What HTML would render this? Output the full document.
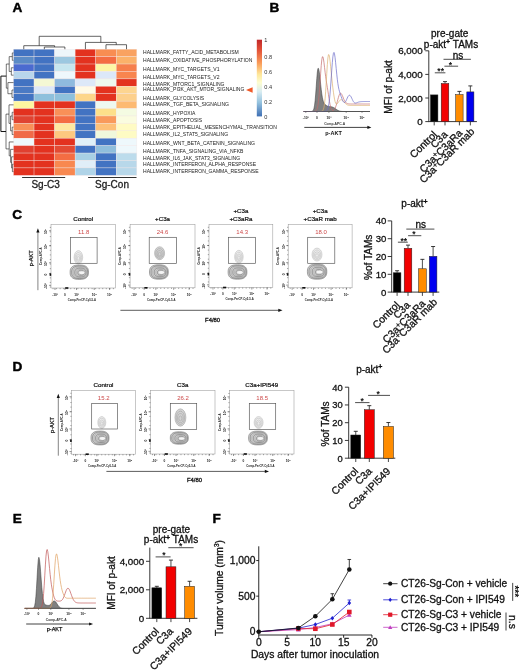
<!DOCTYPE html>
<html><head><meta charset="utf-8"><style>
html,body{margin:0;padding:0;background:#fff;}
svg{display:block;font-family:'Liberation Sans', sans-serif;}
</style></head><body>
<svg width="520" height="671" viewBox="0 0 520 671">
<rect width="520" height="671" fill="#fff"/>
<text x="12.60" y="12.40" font-size="13.6" text-anchor="start" fill="#000" font-weight="bold" stroke="#000" stroke-width="0.45">A</text>
<text x="269.60" y="12.40" font-size="13.6" text-anchor="start" fill="#000" font-weight="bold" stroke="#000" stroke-width="0.45">B</text>
<text x="12.30" y="219.40" font-size="13.6" text-anchor="start" fill="#000" font-weight="bold" stroke="#000" stroke-width="0.45">C</text>
<text x="12.50" y="371.10" font-size="13.6" text-anchor="start" fill="#000" font-weight="bold" stroke="#000" stroke-width="0.45">D</text>
<text x="12.80" y="523.30" font-size="13.6" text-anchor="start" fill="#000" font-weight="bold" stroke="#000" stroke-width="0.45">E</text>
<text x="212.60" y="522.90" font-size="13.6" text-anchor="start" fill="#000" font-weight="bold" stroke="#000" stroke-width="0.45">F</text>
<rect x="13.50" y="49.20" width="20.55" height="7.42" fill="#4273c2" stroke="#f2e6e6" stroke-width="0.45" stroke-opacity="0.75"/>
<rect x="34.05" y="49.20" width="20.55" height="7.42" fill="#4273c2" stroke="#f2e6e6" stroke-width="0.45" stroke-opacity="0.75"/>
<rect x="54.60" y="49.20" width="20.55" height="7.42" fill="#edf6fa" stroke="#f2e6e6" stroke-width="0.45" stroke-opacity="0.75"/>
<rect x="75.15" y="49.20" width="20.55" height="7.42" fill="#e3321f" stroke="#f2e6e6" stroke-width="0.45" stroke-opacity="0.75"/>
<rect x="95.70" y="49.20" width="20.55" height="7.42" fill="#f88d52" stroke="#f2e6e6" stroke-width="0.45" stroke-opacity="0.75"/>
<rect x="116.25" y="49.20" width="20.55" height="7.42" fill="#f9a261" stroke="#f2e6e6" stroke-width="0.45" stroke-opacity="0.75"/>
<rect x="13.50" y="56.62" width="20.55" height="7.42" fill="#5b8bc6" stroke="#f2e6e6" stroke-width="0.45" stroke-opacity="0.75"/>
<rect x="34.05" y="56.62" width="20.55" height="7.42" fill="#4273c2" stroke="#f2e6e6" stroke-width="0.45" stroke-opacity="0.75"/>
<rect x="54.60" y="56.62" width="20.55" height="7.42" fill="#9cc8e0" stroke="#f2e6e6" stroke-width="0.45" stroke-opacity="0.75"/>
<rect x="75.15" y="56.62" width="20.55" height="7.42" fill="#e3321f" stroke="#f2e6e6" stroke-width="0.45" stroke-opacity="0.75"/>
<rect x="95.70" y="56.62" width="20.55" height="7.42" fill="#f46d43" stroke="#f2e6e6" stroke-width="0.45" stroke-opacity="0.75"/>
<rect x="116.25" y="56.62" width="20.55" height="7.42" fill="#fbb26a" stroke="#f2e6e6" stroke-width="0.45" stroke-opacity="0.75"/>
<rect x="13.50" y="64.04" width="20.55" height="7.42" fill="#4b6bd0" stroke="#f2e6e6" stroke-width="0.45" stroke-opacity="0.75"/>
<rect x="34.05" y="64.04" width="20.55" height="7.42" fill="#4273c2" stroke="#f2e6e6" stroke-width="0.45" stroke-opacity="0.75"/>
<rect x="54.60" y="64.04" width="20.55" height="7.42" fill="#c6e6ef" stroke="#f2e6e6" stroke-width="0.45" stroke-opacity="0.75"/>
<rect x="75.15" y="64.04" width="20.55" height="7.42" fill="#e3321f" stroke="#f2e6e6" stroke-width="0.45" stroke-opacity="0.75"/>
<rect x="95.70" y="64.04" width="20.55" height="7.42" fill="#fdf6a6" stroke="#f2e6e6" stroke-width="0.45" stroke-opacity="0.75"/>
<rect x="116.25" y="64.04" width="20.55" height="7.42" fill="#f67f4c" stroke="#f2e6e6" stroke-width="0.45" stroke-opacity="0.75"/>
<rect x="13.50" y="71.46" width="20.55" height="7.42" fill="#b8d6ec" stroke="#f2e6e6" stroke-width="0.45" stroke-opacity="0.75"/>
<rect x="34.05" y="71.46" width="20.55" height="7.42" fill="#4273c2" stroke="#f2e6e6" stroke-width="0.45" stroke-opacity="0.75"/>
<rect x="54.60" y="71.46" width="20.55" height="7.42" fill="#eef8fc" stroke="#f2e6e6" stroke-width="0.45" stroke-opacity="0.75"/>
<rect x="75.15" y="71.46" width="20.55" height="7.42" fill="#e3321f" stroke="#f2e6e6" stroke-width="0.45" stroke-opacity="0.75"/>
<rect x="95.70" y="71.46" width="20.55" height="7.42" fill="#dce8f8" stroke="#f2e6e6" stroke-width="0.45" stroke-opacity="0.75"/>
<rect x="116.25" y="71.46" width="20.55" height="7.42" fill="#f8854f" stroke="#f2e6e6" stroke-width="0.45" stroke-opacity="0.75"/>
<rect x="13.50" y="78.88" width="20.55" height="7.42" fill="#4273c2" stroke="#f2e6e6" stroke-width="0.45" stroke-opacity="0.75"/>
<rect x="34.05" y="78.88" width="20.55" height="7.42" fill="#f4f8d4" stroke="#f2e6e6" stroke-width="0.45" stroke-opacity="0.75"/>
<rect x="54.60" y="78.88" width="20.55" height="7.42" fill="#8fbade" stroke="#f2e6e6" stroke-width="0.45" stroke-opacity="0.75"/>
<rect x="75.15" y="78.88" width="20.55" height="7.42" fill="#dde8f8" stroke="#f2e6e6" stroke-width="0.45" stroke-opacity="0.75"/>
<rect x="95.70" y="78.88" width="20.55" height="7.42" fill="#eef8ee" stroke="#f2e6e6" stroke-width="0.45" stroke-opacity="0.75"/>
<rect x="116.25" y="78.88" width="20.55" height="7.42" fill="#e3321f" stroke="#f2e6e6" stroke-width="0.45" stroke-opacity="0.75"/>
<rect x="13.50" y="86.30" width="20.55" height="7.42" fill="#4a7ac4" stroke="#f2e6e6" stroke-width="0.45" stroke-opacity="0.75"/>
<rect x="34.05" y="86.30" width="20.55" height="7.42" fill="#dce8f8" stroke="#f2e6e6" stroke-width="0.45" stroke-opacity="0.75"/>
<rect x="54.60" y="86.30" width="20.55" height="7.42" fill="#4273c2" stroke="#f2e6e6" stroke-width="0.45" stroke-opacity="0.75"/>
<rect x="75.15" y="86.30" width="20.55" height="7.42" fill="#fffae6" stroke="#f2e6e6" stroke-width="0.45" stroke-opacity="0.75"/>
<rect x="95.70" y="86.30" width="20.55" height="7.42" fill="#e3321f" stroke="#f2e6e6" stroke-width="0.45" stroke-opacity="0.75"/>
<rect x="116.25" y="86.30" width="20.55" height="7.42" fill="#fdd590" stroke="#f2e6e6" stroke-width="0.45" stroke-opacity="0.75"/>
<rect x="13.50" y="93.72" width="20.55" height="7.42" fill="#4273c2" stroke="#f2e6e6" stroke-width="0.45" stroke-opacity="0.75"/>
<rect x="34.05" y="93.72" width="20.55" height="7.42" fill="#8ec0dc" stroke="#f2e6e6" stroke-width="0.45" stroke-opacity="0.75"/>
<rect x="54.60" y="93.72" width="20.55" height="7.42" fill="#8ec0dc" stroke="#f2e6e6" stroke-width="0.45" stroke-opacity="0.75"/>
<rect x="75.15" y="93.72" width="20.55" height="7.42" fill="#fdd68a" stroke="#f2e6e6" stroke-width="0.45" stroke-opacity="0.75"/>
<rect x="95.70" y="93.72" width="20.55" height="7.42" fill="#e3321f" stroke="#f2e6e6" stroke-width="0.45" stroke-opacity="0.75"/>
<rect x="116.25" y="93.72" width="20.55" height="7.42" fill="#fdd08c" stroke="#f2e6e6" stroke-width="0.45" stroke-opacity="0.75"/>
<rect x="13.50" y="101.14" width="20.55" height="7.42" fill="#fef7a0" stroke="#f2e6e6" stroke-width="0.45" stroke-opacity="0.75"/>
<rect x="34.05" y="101.14" width="20.55" height="7.42" fill="#e3321f" stroke="#f2e6e6" stroke-width="0.45" stroke-opacity="0.75"/>
<rect x="54.60" y="101.14" width="20.55" height="7.42" fill="#e3321f" stroke="#f2e6e6" stroke-width="0.45" stroke-opacity="0.75"/>
<rect x="75.15" y="101.14" width="20.55" height="7.42" fill="#4273c2" stroke="#f2e6e6" stroke-width="0.45" stroke-opacity="0.75"/>
<rect x="95.70" y="101.14" width="20.55" height="7.42" fill="#eef9f0" stroke="#f2e6e6" stroke-width="0.45" stroke-opacity="0.75"/>
<rect x="116.25" y="101.14" width="20.55" height="7.42" fill="#fdba72" stroke="#f2e6e6" stroke-width="0.45" stroke-opacity="0.75"/>
<rect x="13.50" y="108.56" width="20.55" height="7.42" fill="#e3321f" stroke="#f2e6e6" stroke-width="0.45" stroke-opacity="0.75"/>
<rect x="34.05" y="108.56" width="20.55" height="7.42" fill="#e3321f" stroke="#f2e6e6" stroke-width="0.45" stroke-opacity="0.75"/>
<rect x="54.60" y="108.56" width="20.55" height="7.42" fill="#f99058" stroke="#f2e6e6" stroke-width="0.45" stroke-opacity="0.75"/>
<rect x="75.15" y="108.56" width="20.55" height="7.42" fill="#4273c2" stroke="#f2e6e6" stroke-width="0.45" stroke-opacity="0.75"/>
<rect x="95.70" y="108.56" width="20.55" height="7.42" fill="#fde08a" stroke="#f2e6e6" stroke-width="0.45" stroke-opacity="0.75"/>
<rect x="116.25" y="108.56" width="20.55" height="7.42" fill="#f4fbe2" stroke="#f2e6e6" stroke-width="0.45" stroke-opacity="0.75"/>
<rect x="13.50" y="115.98" width="20.55" height="7.42" fill="#e04432" stroke="#f2e6e6" stroke-width="0.45" stroke-opacity="0.75"/>
<rect x="34.05" y="115.98" width="20.55" height="7.42" fill="#e3321f" stroke="#f2e6e6" stroke-width="0.45" stroke-opacity="0.75"/>
<rect x="54.60" y="115.98" width="20.55" height="7.42" fill="#f46d43" stroke="#f2e6e6" stroke-width="0.45" stroke-opacity="0.75"/>
<rect x="75.15" y="115.98" width="20.55" height="7.42" fill="#4273c2" stroke="#f2e6e6" stroke-width="0.45" stroke-opacity="0.75"/>
<rect x="95.70" y="115.98" width="20.55" height="7.42" fill="#f99a5c" stroke="#f2e6e6" stroke-width="0.45" stroke-opacity="0.75"/>
<rect x="116.25" y="115.98" width="20.55" height="7.42" fill="#fafce0" stroke="#f2e6e6" stroke-width="0.45" stroke-opacity="0.75"/>
<rect x="13.50" y="123.40" width="20.55" height="7.42" fill="#f99058" stroke="#f2e6e6" stroke-width="0.45" stroke-opacity="0.75"/>
<rect x="34.05" y="123.40" width="20.55" height="7.42" fill="#e3321f" stroke="#f2e6e6" stroke-width="0.45" stroke-opacity="0.75"/>
<rect x="54.60" y="123.40" width="20.55" height="7.42" fill="#fee8a0" stroke="#f2e6e6" stroke-width="0.45" stroke-opacity="0.75"/>
<rect x="75.15" y="123.40" width="20.55" height="7.42" fill="#4273c2" stroke="#f2e6e6" stroke-width="0.45" stroke-opacity="0.75"/>
<rect x="95.70" y="123.40" width="20.55" height="7.42" fill="#fdc078" stroke="#f2e6e6" stroke-width="0.45" stroke-opacity="0.75"/>
<rect x="116.25" y="123.40" width="20.55" height="7.42" fill="#fffbc4" stroke="#f2e6e6" stroke-width="0.45" stroke-opacity="0.75"/>
<rect x="13.50" y="130.82" width="20.55" height="7.42" fill="#f06a48" stroke="#f2e6e6" stroke-width="0.45" stroke-opacity="0.75"/>
<rect x="34.05" y="130.82" width="20.55" height="7.42" fill="#e3321f" stroke="#f2e6e6" stroke-width="0.45" stroke-opacity="0.75"/>
<rect x="54.60" y="130.82" width="20.55" height="7.42" fill="#fdc880" stroke="#f2e6e6" stroke-width="0.45" stroke-opacity="0.75"/>
<rect x="75.15" y="130.82" width="20.55" height="7.42" fill="#4273c2" stroke="#f2e6e6" stroke-width="0.45" stroke-opacity="0.75"/>
<rect x="95.70" y="130.82" width="20.55" height="7.42" fill="#f0f8dc" stroke="#f2e6e6" stroke-width="0.45" stroke-opacity="0.75"/>
<rect x="116.25" y="130.82" width="20.55" height="7.42" fill="#fefbc4" stroke="#f2e6e6" stroke-width="0.45" stroke-opacity="0.75"/>
<rect x="13.50" y="138.24" width="20.55" height="7.42" fill="#eef8fc" stroke="#f2e6e6" stroke-width="0.45" stroke-opacity="0.75"/>
<rect x="34.05" y="138.24" width="20.55" height="7.42" fill="#e3321f" stroke="#f2e6e6" stroke-width="0.45" stroke-opacity="0.75"/>
<rect x="54.60" y="138.24" width="20.55" height="7.42" fill="#e3321f" stroke="#f2e6e6" stroke-width="0.45" stroke-opacity="0.75"/>
<rect x="75.15" y="138.24" width="20.55" height="7.42" fill="#e0f0f8" stroke="#f2e6e6" stroke-width="0.45" stroke-opacity="0.75"/>
<rect x="95.70" y="138.24" width="20.55" height="7.42" fill="#4273c2" stroke="#f2e6e6" stroke-width="0.45" stroke-opacity="0.75"/>
<rect x="116.25" y="138.24" width="20.55" height="7.42" fill="#eef8fc" stroke="#f2e6e6" stroke-width="0.45" stroke-opacity="0.75"/>
<rect x="13.50" y="145.66" width="20.55" height="7.42" fill="#e04030" stroke="#f2e6e6" stroke-width="0.45" stroke-opacity="0.75"/>
<rect x="34.05" y="145.66" width="20.55" height="7.42" fill="#e3321f" stroke="#f2e6e6" stroke-width="0.45" stroke-opacity="0.75"/>
<rect x="54.60" y="145.66" width="20.55" height="7.42" fill="#e34a33" stroke="#f2e6e6" stroke-width="0.45" stroke-opacity="0.75"/>
<rect x="75.15" y="145.66" width="20.55" height="7.42" fill="#4273c2" stroke="#f2e6e6" stroke-width="0.45" stroke-opacity="0.75"/>
<rect x="95.70" y="145.66" width="20.55" height="7.42" fill="#90bedc" stroke="#f2e6e6" stroke-width="0.45" stroke-opacity="0.75"/>
<rect x="116.25" y="145.66" width="20.55" height="7.42" fill="#eef8fc" stroke="#f2e6e6" stroke-width="0.45" stroke-opacity="0.75"/>
<rect x="13.50" y="153.08" width="20.55" height="7.42" fill="#e3321f" stroke="#f2e6e6" stroke-width="0.45" stroke-opacity="0.75"/>
<rect x="34.05" y="153.08" width="20.55" height="7.42" fill="#e3321f" stroke="#f2e6e6" stroke-width="0.45" stroke-opacity="0.75"/>
<rect x="54.60" y="153.08" width="20.55" height="7.42" fill="#f46d43" stroke="#f2e6e6" stroke-width="0.45" stroke-opacity="0.75"/>
<rect x="75.15" y="153.08" width="20.55" height="7.42" fill="#a8d0e4" stroke="#f2e6e6" stroke-width="0.45" stroke-opacity="0.75"/>
<rect x="95.70" y="153.08" width="20.55" height="7.42" fill="#4273c2" stroke="#f2e6e6" stroke-width="0.45" stroke-opacity="0.75"/>
<rect x="116.25" y="153.08" width="20.55" height="7.42" fill="#bcdcec" stroke="#f2e6e6" stroke-width="0.45" stroke-opacity="0.75"/>
<rect x="13.50" y="160.50" width="20.55" height="7.42" fill="#e3321f" stroke="#f2e6e6" stroke-width="0.45" stroke-opacity="0.75"/>
<rect x="34.05" y="160.50" width="20.55" height="7.42" fill="#e3321f" stroke="#f2e6e6" stroke-width="0.45" stroke-opacity="0.75"/>
<rect x="54.60" y="160.50" width="20.55" height="7.42" fill="#f88850" stroke="#f2e6e6" stroke-width="0.45" stroke-opacity="0.75"/>
<rect x="75.15" y="160.50" width="20.55" height="7.42" fill="#e0eef8" stroke="#f2e6e6" stroke-width="0.45" stroke-opacity="0.75"/>
<rect x="95.70" y="160.50" width="20.55" height="7.42" fill="#4273c2" stroke="#f2e6e6" stroke-width="0.45" stroke-opacity="0.75"/>
<rect x="116.25" y="160.50" width="20.55" height="7.42" fill="#b8d8ea" stroke="#f2e6e6" stroke-width="0.45" stroke-opacity="0.75"/>
<rect x="13.50" y="167.92" width="20.55" height="7.42" fill="#e3321f" stroke="#f2e6e6" stroke-width="0.45" stroke-opacity="0.75"/>
<rect x="34.05" y="167.92" width="20.55" height="7.42" fill="#e3321f" stroke="#f2e6e6" stroke-width="0.45" stroke-opacity="0.75"/>
<rect x="54.60" y="167.92" width="20.55" height="7.42" fill="#f88850" stroke="#f2e6e6" stroke-width="0.45" stroke-opacity="0.75"/>
<rect x="75.15" y="167.92" width="20.55" height="7.42" fill="#b0d4e8" stroke="#f2e6e6" stroke-width="0.45" stroke-opacity="0.75"/>
<rect x="95.70" y="167.92" width="20.55" height="7.42" fill="#4273c2" stroke="#f2e6e6" stroke-width="0.45" stroke-opacity="0.75"/>
<rect x="116.25" y="167.92" width="20.55" height="7.42" fill="#b8d8ea" stroke="#f2e6e6" stroke-width="0.45" stroke-opacity="0.75"/>
<polyline points="44.33,49.20 44.33,47.00 64.88,47.00 64.88,49.20" fill="none" stroke="#222" stroke-width="0.7"/>
<polyline points="23.77,49.20 23.77,45.70 54.60,45.70 54.60,47.00" fill="none" stroke="#222" stroke-width="0.7"/>
<polyline points="105.98,49.20 105.98,44.70 126.53,44.70 126.53,49.20" fill="none" stroke="#222" stroke-width="0.7"/>
<polyline points="85.42,49.20 85.42,42.40 116.25,42.40 116.25,44.70" fill="none" stroke="#222" stroke-width="0.7"/>
<polyline points="39.19,45.70 39.19,36.30 100.84,36.30 100.84,42.40" fill="none" stroke="#222" stroke-width="0.7"/>
<polyline points="13.50,52.91 12.30,52.91 12.30,60.33 13.50,60.33" fill="none" stroke="#1a1a1a" stroke-width="0.6"/>
<polyline points="13.50,67.75 11.30,67.75 11.30,75.17 13.50,75.17" fill="none" stroke="#1a1a1a" stroke-width="0.6"/>
<polyline points="12.30,56.62 9.20,56.62 9.20,71.46 11.30,71.46" fill="none" stroke="#1a1a1a" stroke-width="0.6"/>
<polyline points="13.50,90.01 12.00,90.01 12.00,97.43 13.50,97.43" fill="none" stroke="#1a1a1a" stroke-width="0.6"/>
<polyline points="13.50,82.59 7.90,82.59 7.90,93.72 12.00,93.72" fill="none" stroke="#1a1a1a" stroke-width="0.6"/>
<polyline points="9.20,64.04 6.30,64.04 6.30,88.16 7.90,88.16" fill="none" stroke="#1a1a1a" stroke-width="0.6"/>
<polyline points="13.50,112.27 12.20,112.27 12.20,119.69 13.50,119.69" fill="none" stroke="#1a1a1a" stroke-width="0.6"/>
<polyline points="13.50,127.11 12.20,127.11 12.20,134.53 13.50,134.53" fill="none" stroke="#1a1a1a" stroke-width="0.6"/>
<polyline points="12.20,115.98 10.60,115.98 10.60,130.82 12.20,130.82" fill="none" stroke="#1a1a1a" stroke-width="0.6"/>
<polyline points="13.50,104.85 9.00,104.85 9.00,123.40 10.60,123.40" fill="none" stroke="#1a1a1a" stroke-width="0.6"/>
<polyline points="13.50,164.21 12.40,164.21 12.40,171.63 13.50,171.63" fill="none" stroke="#1a1a1a" stroke-width="0.6"/>
<polyline points="13.50,156.79 11.60,156.79 11.60,167.92 12.40,167.92" fill="none" stroke="#1a1a1a" stroke-width="0.6"/>
<polyline points="13.50,149.37 10.60,149.37 10.60,162.36 11.60,162.36" fill="none" stroke="#1a1a1a" stroke-width="0.6"/>
<polyline points="13.50,141.95 9.20,141.95 9.20,155.86 10.60,155.86" fill="none" stroke="#1a1a1a" stroke-width="0.6"/>
<polyline points="9.00,114.12 6.00,114.12 6.00,148.91 9.20,148.91" fill="none" stroke="#1a1a1a" stroke-width="0.6"/>
<polyline points="6.30,76.10 0.90,76.10 0.90,131.52 6.00,131.52" fill="none" stroke="#111" stroke-width="1.0"/>
<text x="143.00" y="54.30" font-size="5.06" text-anchor="start" fill="#222">HALLMARK_FATTY_ACID_METABOLISM</text>
<text x="143.00" y="61.80" font-size="5.06" text-anchor="start" fill="#222">HALLMARK_OXIDATIVE_PHOSPHORYLATION</text>
<text x="143.00" y="70.55" font-size="5.06" text-anchor="start" fill="#222">HALLMARK_MYC_TARGETS_V1</text>
<text x="143.00" y="78.55" font-size="5.06" text-anchor="start" fill="#222">HALLMARK_MYC_TARGETS_V2</text>
<text x="143.00" y="86.05" font-size="5.06" text-anchor="start" fill="#222">HALLMARK_MTORC1_SIGNALING</text>
<text x="143.00" y="91.05" font-size="5.06" text-anchor="start" fill="#222">HALLMARK_PI3K_AKT_MTOR_SIGNALING</text>
<text x="143.00" y="100.05" font-size="5.06" text-anchor="start" fill="#222">HALLMARK_GLYCOLYSIS</text>
<text x="143.00" y="106.30" font-size="5.06" text-anchor="start" fill="#222">HALLMARK_TGF_BETA_SIGNALING</text>
<text x="143.00" y="114.80" font-size="5.06" text-anchor="start" fill="#222">HALLMARK_HYPOXIA</text>
<text x="143.00" y="121.80" font-size="5.06" text-anchor="start" fill="#222">HALLMARK_APOPTOSIS</text>
<text x="143.00" y="128.55" font-size="5.06" text-anchor="start" fill="#222">HALLMARK_EPITHELIAL_MESENCHYMAL_TRANSITION</text>
<text x="143.00" y="135.55" font-size="5.06" text-anchor="start" fill="#222">HALLMARK_IL2_STAT5_SIGNALING</text>
<text x="143.00" y="144.80" font-size="5.06" text-anchor="start" fill="#222">HALLMARK_WNT_BETA_CATENIN_SIGNALING</text>
<text x="143.00" y="152.55" font-size="5.06" text-anchor="start" fill="#222">HALLMARK_TNFA_SIGNALING_VIA_NFKB</text>
<text x="143.00" y="159.55" font-size="5.06" text-anchor="start" fill="#222">HALLMARK_IL6_JAK_STAT3_SIGNALING</text>
<text x="143.00" y="166.30" font-size="5.06" text-anchor="start" fill="#222">HALLMARK_INTERFERON_ALPHA_RESPONSE</text>
<text x="143.00" y="173.05" font-size="5.06" text-anchor="start" fill="#222">HALLMARK_INTERFERON_GAMMA_RESPONSE</text>
<polygon points="246,90 252.6,87.2 252.6,92.8" fill="#f05a28"/>
<defs><linearGradient id="cb" x1="0" y1="0" x2="0" y2="1"><stop offset="0" stop-color="#c0282a"/><stop offset="0.12" stop-color="#e04b35"/><stop offset="0.3" stop-color="#f99a58"/><stop offset="0.45" stop-color="#fee79a"/><stop offset="0.56" stop-color="#fdfdd0"/><stop offset="0.68" stop-color="#d8ecf2"/><stop offset="0.82" stop-color="#94c2de"/><stop offset="1" stop-color="#3f6fb4"/></linearGradient></defs>
<rect x="256.80" y="39.70" width="5.20" height="76.70" fill="url(#cb)" stroke="none" stroke-width="0"/>
<text x="264.30" y="42.40" font-size="5.6" text-anchor="start" fill="#333">1</text>
<text x="264.30" y="58.50" font-size="5.6" text-anchor="start" fill="#333">0.8</text>
<text x="264.30" y="74.20" font-size="5.6" text-anchor="start" fill="#333">0.6</text>
<text x="264.30" y="89.00" font-size="5.6" text-anchor="start" fill="#333">0.4</text>
<text x="264.30" y="104.30" font-size="5.6" text-anchor="start" fill="#333">0.2</text>
<text x="264.30" y="118.90" font-size="5.6" text-anchor="start" fill="#333">0</text>
<line x1="22.10" y1="177.50" x2="65.20" y2="177.50" stroke="#333" stroke-width="1.2"/>
<line x1="88.10" y1="177.50" x2="136.50" y2="177.50" stroke="#333" stroke-width="1.2"/>
<text x="45.60" y="187.50" font-size="10" text-anchor="middle" fill="#222" stroke="#222" stroke-width="0.3">Sg-C3</text>
<text x="112.00" y="187.50" font-size="10" text-anchor="middle" fill="#222" stroke="#222" stroke-width="0.3">Sg-Con</text>
<path d="M303.50,111.50 L304.05,111.50 L304.61,111.50 L305.16,111.50 L305.72,111.50 L306.27,111.50 L306.82,111.50 L307.38,111.50 L307.93,111.50 L308.49,111.50 L309.04,111.50 L309.60,111.50 L310.15,111.50 L310.70,111.49 L311.26,111.47 L311.81,111.40 L312.37,111.23 L312.92,110.82 L313.48,109.92 L314.03,108.18 L314.58,105.15 L315.14,100.45 L315.69,94.01 L316.25,86.29 L316.80,78.42 L317.35,71.98 L317.91,68.48 L318.46,68.39 L319.02,70.48 L319.57,74.25 L320.12,79.11 L320.68,84.37 L321.23,89.41 L321.79,93.80 L322.34,97.32 L322.90,99.94 L323.45,101.78 L324.00,103.02 L324.56,103.87 L325.11,104.48 L325.67,104.95 L326.22,105.36 L326.77,105.71 L327.33,106.00 L327.88,106.24 L328.44,106.42 L328.99,106.54 L329.55,106.62 L330.10,106.67 L330.65,106.72 L331.21,106.78 L331.76,106.87 L332.32,107.01 L332.87,107.20 L333.43,107.44 L333.98,107.73 L334.53,108.07 L335.09,108.44 L335.64,108.83 L336.20,109.23 L336.75,109.62 L337.30,109.98 L337.86,110.31 L338.41,110.59 L338.97,110.83 L339.52,111.02 L340.07,111.17 L340.63,111.28 L341.18,111.35 L341.74,111.41 L342.29,111.44 L342.85,111.47 L343.40,111.48 L343.95,111.49 L344.51,111.49 L345.06,111.50 L345.62,111.50 L346.17,111.50 L346.73,111.50 L347.28,111.50 L347.83,111.50 L348.39,111.50 L348.94,111.50 L349.50,111.50 L350.05,111.50 L350.60,111.50 L351.16,111.50 L351.71,111.50 L352.27,111.50 L352.82,111.50 L353.38,111.50 L353.93,111.50 L354.48,111.50 L355.04,111.50 L355.59,111.50 L356.15,111.50 L356.70,111.50 L357.25,111.50 L357.81,111.50 L358.36,111.50 L358.92,111.50 L359.47,111.50 L360.02,111.50 L360.58,111.50 L361.13,111.50 L361.69,111.50 L362.24,111.50 L362.80,111.50 L363.35,111.50 L363.90,111.50 L364.46,111.50 L365.01,111.50 L365.57,111.50 L366.12,111.50 L366.68,111.50 L367.23,111.50 L367.78,111.50 L368.34,111.50 L368.89,111.50 L369.45,111.50 L370.00,111.50 L370.00,111.50 L303.50,111.50 Z" fill="#6a6a6a" fill-opacity="0.85" stroke="#333" stroke-width="0.5"/>
<polyline points="303.50,111.50 304.05,111.50 304.61,111.50 305.16,111.50 305.72,111.50 306.27,111.50 306.82,111.50 307.38,111.50 307.93,111.50 308.49,111.50 309.04,111.50 309.60,111.50 310.15,111.50 310.70,111.50 311.26,111.50 311.81,111.50 312.37,111.50 312.92,111.50 313.48,111.49 314.03,111.47 314.58,111.42 315.14,111.30 315.69,111.05 316.25,110.55 316.80,109.62 317.35,108.00 317.91,105.38 318.46,101.48 319.02,96.08 319.57,89.23 320.12,81.32 320.68,73.09 321.23,65.58 321.79,59.88 322.34,56.85 322.90,56.72 323.45,58.90 324.00,62.76 324.56,67.47 325.11,72.29 325.67,76.71 326.22,80.57 326.77,84.02 327.33,87.37 327.88,90.84 328.44,94.50 328.99,98.21 329.55,101.70 330.10,104.72 330.65,107.09 331.21,108.77 331.76,109.83 332.32,110.37 332.87,110.51 333.43,110.34 333.98,109.89 334.53,109.18 335.09,108.19 335.64,106.90 336.20,105.33 336.75,103.50 337.30,101.49 337.86,99.41 338.41,97.41 338.97,95.65 339.52,94.29 340.07,93.47 340.63,93.22 341.18,93.53 341.74,94.32 342.29,95.45 342.85,96.78 343.40,98.16 343.95,99.47 344.51,100.63 345.06,101.59 345.62,102.35 346.17,102.92 346.73,103.32 347.28,103.59 347.83,103.76 348.39,103.87 348.94,103.93 349.50,103.97 350.05,103.98 350.60,103.99 351.16,104.00 351.71,104.00 352.27,104.00 352.82,104.00 353.38,104.00 353.93,104.00 354.48,104.00 355.04,104.00 355.59,104.00 356.15,104.00 356.70,104.00 357.25,104.00 357.81,104.00 358.36,104.00 358.92,104.00 359.47,104.00 360.02,104.00 360.58,104.00 361.13,104.00 361.69,104.00 362.24,104.00 362.80,104.00 363.35,104.00 363.90,104.00 364.46,104.00 365.01,104.00 365.57,104.00 366.12,104.00 366.68,104.00 367.23,104.00 367.78,104.00 368.34,104.00 368.89,104.00 369.45,104.00 370.00,104.00" fill="none" stroke="#c46c6c" stroke-width="0.7"/>
<polyline points="303.50,111.50 304.05,111.50 304.61,111.50 305.16,111.50 305.72,111.50 306.27,111.50 306.82,111.50 307.38,111.50 307.93,111.50 308.49,111.50 309.04,111.50 309.60,111.50 310.15,111.50 310.70,111.50 311.26,111.50 311.81,111.50 312.37,111.50 312.92,111.50 313.48,111.50 314.03,111.50 314.58,111.50 315.14,111.50 315.69,111.50 316.25,111.50 316.80,111.50 317.35,111.50 317.91,111.50 318.46,111.50 319.02,111.50 319.57,111.50 320.12,111.49 320.68,111.47 321.23,111.42 321.79,111.30 322.34,111.02 322.90,110.41 323.45,109.23 324.00,107.10 324.56,103.60 325.11,98.38 325.67,91.29 326.22,82.66 326.77,73.34 327.33,64.65 327.88,58.05 328.44,54.71 328.99,54.68 329.55,57.11 330.10,61.38 330.65,66.70 331.21,72.37 331.76,77.92 332.32,83.11 332.87,87.88 333.43,92.20 333.98,96.00 334.53,99.16 335.09,101.55 335.64,103.12 336.20,103.90 336.75,104.01 337.30,103.64 337.86,102.98 338.41,102.18 338.97,101.38 339.52,100.68 340.07,100.14 340.63,99.80 341.18,99.69 341.74,99.81 342.29,100.12 342.85,100.60 343.40,101.19 343.95,101.83 344.51,102.49 345.06,103.12 345.62,103.67 346.17,104.15 346.73,104.53 347.28,104.83 347.83,105.05 348.39,105.21 348.94,105.32 349.50,105.39 350.05,105.44 350.60,105.46 351.16,105.48 351.71,105.49 352.27,105.49 352.82,105.50 353.38,105.50 353.93,105.50 354.48,105.50 355.04,105.50 355.59,105.50 356.15,105.50 356.70,105.50 357.25,105.50 357.81,105.50 358.36,105.50 358.92,105.50 359.47,105.50 360.02,105.50 360.58,105.50 361.13,105.50 361.69,105.50 362.24,105.50 362.80,105.50 363.35,105.50 363.90,105.50 364.46,105.50 365.01,105.50 365.57,105.50 366.12,105.50 366.68,105.50 367.23,105.50 367.78,105.50 368.34,105.50 368.89,105.50 369.45,105.50 370.00,105.50" fill="none" stroke="#dcb070" stroke-width="0.7"/>
<polyline points="303.50,111.50 304.05,111.50 304.61,111.50 305.16,111.50 305.72,111.50 306.27,111.50 306.82,111.50 307.38,111.50 307.93,111.50 308.49,111.50 309.04,111.50 309.60,111.50 310.15,111.50 310.70,111.50 311.26,111.50 311.81,111.50 312.37,111.50 312.92,111.50 313.48,111.50 314.03,111.50 314.58,111.50 315.14,111.50 315.69,111.50 316.25,111.50 316.80,111.50 317.35,111.50 317.91,111.50 318.46,111.50 319.02,111.50 319.57,111.50 320.12,111.50 320.68,111.50 321.23,111.50 321.79,111.50 322.34,111.50 322.90,111.50 323.45,111.49 324.00,111.48 324.56,111.46 325.11,111.41 325.67,111.29 326.22,111.06 326.77,110.62 327.33,109.83 327.88,108.50 328.44,106.38 328.99,103.22 329.55,98.80 330.10,93.04 330.65,86.04 331.21,78.19 331.76,70.14 332.32,62.74 332.87,56.88 333.43,53.31 333.98,52.41 334.53,53.99 335.09,57.64 335.64,62.71 336.20,68.45 336.75,74.14 337.30,79.26 337.86,83.53 338.41,86.91 338.97,89.53 339.52,91.61 340.07,93.37 340.63,95.01 341.18,96.60 341.74,98.15 342.29,99.61 342.85,100.87 343.40,101.83 343.95,102.41 344.51,102.54 345.06,102.23 345.62,101.52 346.17,100.51 346.73,99.30 347.28,98.04 347.83,96.89 348.39,95.96 348.94,95.38 349.50,95.20 350.05,95.44 350.60,96.07 351.16,97.02 351.71,98.17 352.27,99.39 352.82,100.57 353.38,101.57 353.93,102.34 354.48,102.82 355.04,103.05 355.59,103.07 356.15,102.94 356.70,102.75 357.25,102.53 357.81,102.33 358.36,102.14 358.92,101.99 359.47,101.87 360.02,101.77 360.58,101.70 361.13,101.65 361.69,101.60 362.24,101.57 362.80,101.55 363.35,101.54 363.90,101.53 364.46,101.52 365.01,101.51 365.57,101.51 366.12,101.51 366.68,101.50 367.23,101.50 367.78,101.50 368.34,101.50 368.89,101.50 369.45,101.50 370.00,101.50" fill="none" stroke="#6c6cc8" stroke-width="0.7"/>
<line x1="303.50" y1="111.50" x2="370.00" y2="111.50" stroke="#444" stroke-width="0.6"/>
<line x1="305.80" y1="111.50" x2="305.80" y2="113.00" stroke="#444" stroke-width="0.5"/>
<line x1="317.00" y1="111.50" x2="317.00" y2="113.00" stroke="#444" stroke-width="0.5"/>
<line x1="328.90" y1="111.50" x2="328.90" y2="113.00" stroke="#444" stroke-width="0.5"/>
<line x1="346.20" y1="111.50" x2="346.20" y2="113.00" stroke="#444" stroke-width="0.5"/>
<line x1="362.00" y1="111.50" x2="362.00" y2="113.00" stroke="#444" stroke-width="0.5"/>
<text x="305.80" y="118.50" font-size="3.3" text-anchor="middle" fill="#222" font-weight="bold">-10³</text>
<text x="317.00" y="118.50" font-size="3.3" text-anchor="middle" fill="#222" font-weight="bold">0</text>
<text x="328.90" y="118.50" font-size="3.3" text-anchor="middle" fill="#222" font-weight="bold">10³</text>
<text x="346.20" y="118.50" font-size="3.3" text-anchor="middle" fill="#222" font-weight="bold">10⁴</text>
<text x="362.00" y="118.50" font-size="3.3" text-anchor="middle" fill="#222" font-weight="bold">10⁵</text>
<text x="334.60" y="124.70" font-size="3.3" text-anchor="middle" fill="#333" font-weight="bold">Comp-APC-A</text>
<line x1="304.30" y1="127.40" x2="368.40" y2="127.40" stroke="#111" stroke-width="0.8"/>
<polygon points="371.40,127.40 367.40,125.80 367.40,129.00" fill="#111"/>
<text x="333.50" y="134.60" font-size="5.5" text-anchor="middle" fill="#111" font-weight="bold">p-AKT</text>
<path d="M24.60,608.40 L25.19,608.40 L25.79,608.40 L26.38,608.40 L26.98,608.40 L27.57,608.40 L28.17,608.40 L28.76,608.40 L29.35,608.40 L29.95,608.40 L30.54,608.40 L31.14,608.40 L31.73,608.39 L32.32,608.36 L32.92,608.27 L33.51,607.99 L34.11,607.27 L34.70,605.61 L35.30,602.31 L35.89,596.62 L36.48,588.23 L37.08,577.84 L37.67,567.42 L38.27,559.75 L38.86,557.24 L39.45,559.33 L40.05,564.56 L40.64,571.88 L41.24,579.93 L41.83,587.51 L42.43,593.80 L43.02,598.46 L43.61,601.55 L44.21,603.39 L44.80,604.37 L45.40,604.84 L45.99,605.07 L46.58,605.19 L47.18,605.30 L47.77,605.38 L48.37,605.41 L48.96,605.35 L49.56,605.15 L50.15,604.78 L50.74,604.24 L51.34,603.56 L51.93,602.80 L52.53,602.06 L53.12,601.45 L53.71,601.05 L54.31,600.94 L54.90,601.13 L55.50,601.63 L56.09,602.36 L56.69,603.25 L57.28,604.20 L57.87,605.12 L58.47,605.96 L59.06,606.66 L59.66,607.21 L60.25,607.63 L60.84,607.92 L61.44,608.11 L62.03,608.24 L62.63,608.31 L63.22,608.35 L63.82,608.38 L64.41,608.39 L65.00,608.40 L65.60,608.40 L66.19,608.40 L66.79,608.40 L67.38,608.40 L67.97,608.40 L68.57,608.40 L69.16,608.40 L69.76,608.40 L70.35,608.40 L70.95,608.40 L71.54,608.40 L72.13,608.40 L72.73,608.40 L73.32,608.40 L73.92,608.40 L74.51,608.40 L75.10,608.40 L75.70,608.40 L76.29,608.40 L76.89,608.40 L77.48,608.40 L78.08,608.40 L78.67,608.40 L79.26,608.40 L79.86,608.40 L80.45,608.40 L81.05,608.40 L81.64,608.40 L82.23,608.40 L82.83,608.40 L83.42,608.40 L84.02,608.40 L84.61,608.40 L85.21,608.40 L85.80,608.40 L86.39,608.40 L86.99,608.40 L87.58,608.40 L88.18,608.40 L88.77,608.40 L89.36,608.40 L89.96,608.40 L90.55,608.40 L91.15,608.40 L91.74,608.40 L92.34,608.40 L92.93,608.40 L93.52,608.40 L94.12,608.40 L94.71,608.40 L95.31,608.40 L95.90,608.40 L95.90,608.40 L24.60,608.40 Z" fill="#6a6a6a" fill-opacity="0.85" stroke="#333" stroke-width="0.5"/>
<polyline points="24.60,608.40 25.19,608.40 25.79,608.40 26.38,608.40 26.98,608.40 27.57,608.40 28.17,608.40 28.76,608.40 29.35,608.40 29.95,608.40 30.54,608.40 31.14,608.40 31.73,608.40 32.32,608.40 32.92,608.40 33.51,608.40 34.11,608.40 34.70,608.40 35.30,608.40 35.89,608.40 36.48,608.40 37.08,608.40 37.67,608.40 38.27,608.39 38.86,608.38 39.45,608.34 40.05,608.23 40.64,607.96 41.24,607.34 41.83,606.07 42.43,603.68 43.02,599.64 43.61,593.50 44.21,585.17 44.80,575.20 45.40,564.92 45.99,556.14 46.58,550.68 47.18,549.51 47.77,551.56 48.37,556.03 48.96,561.96 49.56,568.36 50.15,574.45 50.74,579.78 51.34,584.23 51.93,587.93 52.53,591.03 53.12,593.68 53.71,595.91 54.31,597.71 54.90,599.07 55.50,600.00 56.09,600.58 56.69,600.89 57.28,601.03 57.87,601.09 58.47,601.11 59.06,601.11 59.66,601.10 60.25,601.03 60.84,600.86 61.44,600.55 62.03,600.03 62.63,599.26 63.22,598.22 63.82,596.91 64.41,595.38 65.00,593.70 65.60,592.02 66.19,590.48 66.79,589.25 67.38,588.46 67.97,588.21 68.57,588.50 69.16,589.31 69.76,590.52 70.35,592.03 70.95,593.69 71.54,595.37 72.13,596.96 72.73,598.39 73.32,599.59 73.92,600.57 74.51,601.32 75.10,601.88 75.70,602.28 76.29,602.55 76.89,602.73 77.48,602.84 78.08,602.91 78.67,602.95 79.26,602.98 79.86,602.99 80.45,602.99 81.05,603.00 81.64,603.00 82.23,603.00 82.83,603.00 83.42,603.00 84.02,603.00 84.61,603.00 85.21,603.00 85.80,603.00 86.39,603.00 86.99,603.00 87.58,603.00 88.18,603.00 88.77,603.00 89.36,603.00 89.96,603.00 90.55,603.00 91.15,603.00 91.74,603.00 92.34,603.00 92.93,603.00 93.52,603.00 94.12,603.00 94.71,603.00 95.31,603.00 95.90,603.00" fill="none" stroke="#c05454" stroke-width="0.7"/>
<polyline points="24.60,608.40 25.19,608.40 25.79,608.40 26.38,608.40 26.98,608.40 27.57,608.40 28.17,608.40 28.76,608.40 29.35,608.40 29.95,608.40 30.54,608.40 31.14,608.40 31.73,608.40 32.32,608.40 32.92,608.40 33.51,608.40 34.11,608.40 34.70,608.40 35.30,608.40 35.89,608.40 36.48,608.40 37.08,608.40 37.67,608.40 38.27,608.40 38.86,608.40 39.45,608.40 40.05,608.40 40.64,608.40 41.24,608.40 41.83,608.40 42.43,608.40 43.02,608.40 43.61,608.40 44.21,608.40 44.80,608.40 45.40,608.40 45.99,608.40 46.58,608.40 47.18,608.40 47.77,608.39 48.37,608.37 48.96,608.32 49.56,608.19 50.15,607.87 50.74,607.15 51.34,605.70 51.93,603.08 52.53,598.80 53.12,592.52 53.71,584.33 54.31,574.95 54.90,565.73 55.50,558.38 56.09,554.38 56.69,553.98 57.28,556.15 57.87,560.26 58.47,565.47 59.06,570.98 59.66,576.15 60.25,580.65 60.84,584.39 61.44,587.44 62.03,589.95 62.63,592.04 63.22,593.78 63.82,595.20 64.41,596.31 65.00,597.12 65.60,597.66 66.19,598.00 66.79,598.18 67.38,598.26 67.97,598.28 68.57,598.28 69.16,598.27 69.76,598.25 70.35,598.24 70.95,598.23 71.54,598.22 72.13,598.21 72.73,598.21 73.32,598.21 73.92,598.20 74.51,598.20 75.10,598.20 75.70,598.20 76.29,598.20 76.89,598.20 77.48,598.20 78.08,598.20 78.67,598.20 79.26,598.20 79.86,598.20 80.45,598.20 81.05,598.20 81.64,598.20 82.23,598.20 82.83,598.20 83.42,598.20 84.02,598.20 84.61,598.20 85.21,598.20 85.80,598.20 86.39,598.20 86.99,598.20 87.58,598.20 88.18,598.20 88.77,598.20 89.36,598.20 89.96,598.20 90.55,598.20 91.15,598.20 91.74,598.20 92.34,598.20 92.93,598.20 93.52,598.20 94.12,598.20 94.71,598.20 95.31,598.20 95.90,598.20" fill="none" stroke="#e0a060" stroke-width="0.7"/>
<line x1="24.60" y1="608.40" x2="95.90" y2="608.40" stroke="#444" stroke-width="0.6"/>
<line x1="26.90" y1="608.40" x2="26.90" y2="609.90" stroke="#444" stroke-width="0.5"/>
<line x1="38.50" y1="608.40" x2="38.50" y2="609.90" stroke="#444" stroke-width="0.5"/>
<line x1="50.80" y1="608.40" x2="50.80" y2="609.90" stroke="#444" stroke-width="0.5"/>
<line x1="68.90" y1="608.40" x2="68.90" y2="609.90" stroke="#444" stroke-width="0.5"/>
<line x1="83.10" y1="608.40" x2="83.10" y2="609.90" stroke="#444" stroke-width="0.5"/>
<text x="26.90" y="615.40" font-size="3.3" text-anchor="middle" fill="#222" font-weight="bold">-10³</text>
<text x="38.50" y="615.40" font-size="3.3" text-anchor="middle" fill="#222" font-weight="bold">0</text>
<text x="50.80" y="615.40" font-size="3.3" text-anchor="middle" fill="#222" font-weight="bold">10³</text>
<text x="68.90" y="615.40" font-size="3.3" text-anchor="middle" fill="#222" font-weight="bold">10⁴</text>
<text x="83.10" y="615.40" font-size="3.3" text-anchor="middle" fill="#222" font-weight="bold">10⁵</text>
<text x="56.20" y="620.80" font-size="3.3" text-anchor="middle" fill="#333" font-weight="bold">Comp-APC-A</text>
<line x1="26.20" y1="624.00" x2="90.10" y2="624.00" stroke="#111" stroke-width="0.8"/>
<polygon points="93.10,624.00 89.10,622.40 89.10,625.60" fill="#111"/>
<text x="54.60" y="630.80" font-size="5.6" text-anchor="middle" fill="#111" stroke="#111" stroke-width="0.25">p-AKT</text>
<line x1="428.80" y1="50.80" x2="428.80" y2="121.60" stroke="#222" stroke-width="0.9"/>
<line x1="428.35" y1="121.60" x2="476.90" y2="121.60" stroke="#222" stroke-width="0.9"/>
<line x1="425.30" y1="50.80" x2="428.80" y2="50.80" stroke="#222" stroke-width="0.9"/>
<text x="422.70" y="54.31" font-size="9.8" text-anchor="end" fill="#111" stroke="#111" stroke-width="0.3">6,000</text>
<line x1="425.30" y1="74.40" x2="428.80" y2="74.40" stroke="#222" stroke-width="0.9"/>
<text x="422.70" y="77.91" font-size="9.8" text-anchor="end" fill="#111" stroke="#111" stroke-width="0.3">4,000</text>
<line x1="425.30" y1="98.00" x2="428.80" y2="98.00" stroke="#222" stroke-width="0.9"/>
<text x="422.70" y="101.51" font-size="9.8" text-anchor="end" fill="#111" stroke="#111" stroke-width="0.3">2,000</text>
<line x1="425.30" y1="121.60" x2="428.80" y2="121.60" stroke="#222" stroke-width="0.9"/>
<text x="422.70" y="125.11" font-size="9.8" text-anchor="end" fill="#111" stroke="#111" stroke-width="0.3">0</text>
<rect x="430.50" y="94.90" width="7.40" height="26.70" fill="#000" stroke="#222" stroke-width="0.5"/>
<line x1="434.20" y1="121.60" x2="434.20" y2="125.40" stroke="#333" stroke-width="0.9"/>
<line x1="445.00" y1="83.50" x2="445.00" y2="81.60" stroke="#222" stroke-width="0.8"/>
<line x1="443.00" y1="81.60" x2="447.00" y2="81.60" stroke="#222" stroke-width="0.9"/>
<rect x="441.20" y="83.50" width="7.60" height="38.10" fill="#f20000" stroke="#222" stroke-width="0.5"/>
<line x1="445.00" y1="121.60" x2="445.00" y2="125.40" stroke="#333" stroke-width="0.9"/>
<line x1="459.40" y1="94.60" x2="459.40" y2="91.40" stroke="#222" stroke-width="0.8"/>
<line x1="457.40" y1="91.40" x2="461.40" y2="91.40" stroke="#222" stroke-width="0.9"/>
<rect x="455.70" y="94.60" width="7.40" height="27.00" fill="#ff8c00" stroke="#222" stroke-width="0.5"/>
<line x1="459.40" y1="121.60" x2="459.40" y2="125.40" stroke="#333" stroke-width="0.9"/>
<line x1="470.35" y1="91.90" x2="470.35" y2="85.91" stroke="#222" stroke-width="0.8"/>
<line x1="468.35" y1="85.91" x2="472.35" y2="85.91" stroke="#222" stroke-width="0.9"/>
<rect x="466.80" y="91.90" width="7.10" height="29.70" fill="#0000f0" stroke="#222" stroke-width="0.5"/>
<line x1="470.35" y1="121.60" x2="470.35" y2="125.40" stroke="#333" stroke-width="0.9"/>
<text x="392.30" y="87.00" font-size="10" text-anchor="middle" fill="#111" stroke="#111" stroke-width="0.3" transform="rotate(-90 392.30 87.00)">MFI of p-akt</text>
<text x="449.70" y="36.90" font-size="10" text-anchor="middle" fill="#111" stroke="#111" stroke-width="0.3">pre-gate</text>
<text x="451.00" y="47.80" font-size="10" text-anchor="middle" fill="#111" stroke="#111" stroke-width="0.3">p-akt<tspan font-size="7" dy="-3.8" font-weight="bold">+</tspan><tspan dy="3.8"> TAMs</tspan></text>
<line x1="434.80" y1="72.80" x2="445.40" y2="72.80" stroke="#222" stroke-width="0.8"/>
<text x="440.65" y="74.41" font-size="8.5" text-anchor="middle" fill="#111" font-weight="bold">**</text>
<line x1="444.40" y1="66.20" x2="458.10" y2="66.20" stroke="#222" stroke-width="0.8"/>
<text x="450.40" y="67.80" font-size="8.5" text-anchor="middle" fill="#111" font-weight="bold">*</text>
<line x1="443.50" y1="59.30" x2="470.90" y2="59.30" stroke="#222" stroke-width="0.8"/>
<text x="458.05" y="58.60" font-size="10" text-anchor="middle" fill="#111" stroke="#111" stroke-width="0.3">ns</text>
<text x="437.60" y="135.30" font-size="10.3" text-anchor="end" fill="#111" stroke="#111" stroke-width="0.3" transform="rotate(-45 437.60 135.30)">Control</text>
<text x="448.20" y="135.30" font-size="10.3" text-anchor="end" fill="#111" stroke="#111" stroke-width="0.3" transform="rotate(-45 448.20 135.30)">C3a</text>
<text x="463.00" y="133.80" font-size="10.3" text-anchor="end" fill="#111" stroke="#111" stroke-width="0.3" transform="rotate(-45 463.00 133.80)">C3a<tspan font-size="8" dy="-2.6">+</tspan><tspan dy="2.6">C3aRa</tspan></text>
<text x="475.10" y="132.30" font-size="10.3" text-anchor="end" fill="#111" stroke="#111" stroke-width="0.3" transform="rotate(-45 475.10 132.30)">C3a<tspan font-size="8" dy="-2.6">+</tspan><tspan dy="2.6">C3aR mab</tspan></text>
<line x1="391.70" y1="220.90" x2="391.70" y2="292.10" stroke="#222" stroke-width="0.9"/>
<line x1="391.25" y1="292.10" x2="439.30" y2="292.10" stroke="#222" stroke-width="0.9"/>
<line x1="387.70" y1="220.90" x2="391.70" y2="220.90" stroke="#222" stroke-width="0.9"/>
<text x="386.30" y="224.34" font-size="9.6" text-anchor="end" fill="#111" stroke="#111" stroke-width="0.3">40</text>
<line x1="387.70" y1="238.70" x2="391.70" y2="238.70" stroke="#222" stroke-width="0.9"/>
<text x="386.30" y="242.14" font-size="9.6" text-anchor="end" fill="#111" stroke="#111" stroke-width="0.3">30</text>
<line x1="387.70" y1="256.50" x2="391.70" y2="256.50" stroke="#222" stroke-width="0.9"/>
<text x="386.30" y="259.94" font-size="9.6" text-anchor="end" fill="#111" stroke="#111" stroke-width="0.3">20</text>
<line x1="387.70" y1="274.30" x2="391.70" y2="274.30" stroke="#222" stroke-width="0.9"/>
<text x="386.30" y="277.74" font-size="9.6" text-anchor="end" fill="#111" stroke="#111" stroke-width="0.3">10</text>
<line x1="387.70" y1="292.10" x2="391.70" y2="292.10" stroke="#222" stroke-width="0.9"/>
<text x="386.30" y="295.54" font-size="9.6" text-anchor="end" fill="#111" stroke="#111" stroke-width="0.3">0</text>
<line x1="397.10" y1="272.77" x2="397.10" y2="270.74" stroke="#222" stroke-width="0.8"/>
<line x1="395.10" y1="270.74" x2="399.10" y2="270.74" stroke="#222" stroke-width="0.9"/>
<rect x="393.30" y="272.77" width="7.60" height="19.33" fill="#000" stroke="#222" stroke-width="0.5"/>
<line x1="397.10" y1="292.10" x2="397.10" y2="295.90" stroke="#333" stroke-width="0.9"/>
<line x1="408.00" y1="248.31" x2="408.00" y2="245.11" stroke="#222" stroke-width="0.8"/>
<line x1="406.00" y1="245.11" x2="410.00" y2="245.11" stroke="#222" stroke-width="0.9"/>
<rect x="404.20" y="248.31" width="7.60" height="43.79" fill="#f20000" stroke="#222" stroke-width="0.5"/>
<line x1="408.00" y1="292.10" x2="408.00" y2="295.90" stroke="#333" stroke-width="0.9"/>
<line x1="422.40" y1="268.78" x2="422.40" y2="259.35" stroke="#222" stroke-width="0.8"/>
<line x1="420.40" y1="259.35" x2="424.40" y2="259.35" stroke="#222" stroke-width="0.9"/>
<rect x="418.50" y="268.78" width="7.80" height="23.32" fill="#ff8c00" stroke="#222" stroke-width="0.5"/>
<line x1="422.40" y1="292.10" x2="422.40" y2="295.90" stroke="#333" stroke-width="0.9"/>
<line x1="433.10" y1="256.32" x2="433.10" y2="246.53" stroke="#222" stroke-width="0.8"/>
<line x1="431.10" y1="246.53" x2="435.10" y2="246.53" stroke="#222" stroke-width="0.9"/>
<rect x="429.30" y="256.32" width="7.60" height="35.78" fill="#0000f0" stroke="#222" stroke-width="0.5"/>
<line x1="433.10" y1="292.10" x2="433.10" y2="295.90" stroke="#333" stroke-width="0.9"/>
<text x="372.30" y="257.30" font-size="10" text-anchor="middle" fill="#111" stroke="#111" stroke-width="0.3" transform="rotate(-90 372.30 257.30)">%of TAMs</text>
<text x="414.50" y="207.30" font-size="10" text-anchor="middle" fill="#111" stroke="#111" stroke-width="0.3">p-akt<tspan font-size="7" dy="-3.8" font-weight="bold">+</tspan><tspan dy="3.8"></tspan></text>
<line x1="397.90" y1="242.20" x2="407.80" y2="242.20" stroke="#222" stroke-width="0.8"/>
<text x="403.85" y="244.00" font-size="8.5" text-anchor="middle" fill="#111" font-weight="bold">**</text>
<line x1="408.10" y1="235.70" x2="421.30" y2="235.70" stroke="#222" stroke-width="0.8"/>
<text x="414.00" y="237.10" font-size="8.5" text-anchor="middle" fill="#111" font-weight="bold">*</text>
<line x1="406.30" y1="229.10" x2="434.40" y2="229.10" stroke="#222" stroke-width="0.8"/>
<text x="420.80" y="227.50" font-size="10" text-anchor="middle" fill="#111" stroke="#111" stroke-width="0.3">ns</text>
<text x="400.30" y="305.80" font-size="10.3" text-anchor="end" fill="#111" stroke="#111" stroke-width="0.3" transform="rotate(-45 400.30 305.80)">Control</text>
<text x="410.90" y="305.80" font-size="10.3" text-anchor="end" fill="#111" stroke="#111" stroke-width="0.3" transform="rotate(-45 410.90 305.80)">C3a</text>
<text x="426.00" y="304.30" font-size="10.3" text-anchor="end" fill="#111" stroke="#111" stroke-width="0.3" transform="rotate(-45 426.00 304.30)">C3a<tspan font-size="8" dy="-2.6">+</tspan><tspan dy="2.6">C3aRa</tspan></text>
<text x="437.90" y="302.80" font-size="10.3" text-anchor="end" fill="#111" stroke="#111" stroke-width="0.3" transform="rotate(-45 437.90 302.80)">C3a<tspan font-size="8" dy="-2.6">+</tspan><tspan dy="2.6">C3aR mab</tspan></text>
<line x1="348.70" y1="387.20" x2="348.70" y2="458.20" stroke="#222" stroke-width="0.9"/>
<line x1="348.25" y1="458.20" x2="395.30" y2="458.20" stroke="#222" stroke-width="0.9"/>
<line x1="344.90" y1="387.20" x2="348.70" y2="387.20" stroke="#222" stroke-width="0.9"/>
<text x="342.70" y="390.57" font-size="9.4" text-anchor="end" fill="#111" stroke="#111" stroke-width="0.3">40</text>
<line x1="344.90" y1="404.95" x2="348.70" y2="404.95" stroke="#222" stroke-width="0.9"/>
<text x="342.70" y="408.32" font-size="9.4" text-anchor="end" fill="#111" stroke="#111" stroke-width="0.3">30</text>
<line x1="344.90" y1="422.70" x2="348.70" y2="422.70" stroke="#222" stroke-width="0.9"/>
<text x="342.70" y="426.07" font-size="9.4" text-anchor="end" fill="#111" stroke="#111" stroke-width="0.3">20</text>
<line x1="344.90" y1="440.45" x2="348.70" y2="440.45" stroke="#222" stroke-width="0.9"/>
<text x="342.70" y="443.82" font-size="9.4" text-anchor="end" fill="#111" stroke="#111" stroke-width="0.3">10</text>
<line x1="344.90" y1="458.20" x2="348.70" y2="458.20" stroke="#222" stroke-width="0.9"/>
<text x="342.70" y="461.57" font-size="9.4" text-anchor="end" fill="#111" stroke="#111" stroke-width="0.3">0</text>
<line x1="355.75" y1="435.00" x2="355.75" y2="431.31" stroke="#222" stroke-width="0.8"/>
<line x1="353.75" y1="431.31" x2="357.75" y2="431.31" stroke="#222" stroke-width="0.9"/>
<rect x="350.80" y="435.00" width="9.90" height="23.20" fill="#000" stroke="#222" stroke-width="0.5"/>
<line x1="355.75" y1="458.20" x2="355.75" y2="462.00" stroke="#333" stroke-width="0.9"/>
<line x1="369.30" y1="409.74" x2="369.30" y2="405.66" stroke="#222" stroke-width="0.8"/>
<line x1="367.30" y1="405.66" x2="371.30" y2="405.66" stroke="#222" stroke-width="0.9"/>
<rect x="364.30" y="409.74" width="10.00" height="48.46" fill="#f20000" stroke="#222" stroke-width="0.5"/>
<line x1="369.30" y1="458.20" x2="369.30" y2="462.00" stroke="#333" stroke-width="0.9"/>
<line x1="388.40" y1="426.43" x2="388.40" y2="422.52" stroke="#222" stroke-width="0.8"/>
<line x1="386.40" y1="422.52" x2="390.40" y2="422.52" stroke="#222" stroke-width="0.9"/>
<rect x="383.30" y="426.43" width="10.20" height="31.77" fill="#ff8c00" stroke="#222" stroke-width="0.5"/>
<line x1="388.40" y1="458.20" x2="388.40" y2="462.00" stroke="#333" stroke-width="0.9"/>
<text x="329.00" y="424.00" font-size="10" text-anchor="middle" fill="#111" stroke="#111" stroke-width="0.3" transform="rotate(-90 329.00 424.00)">%of TAMs</text>
<text x="369.30" y="373.00" font-size="10" text-anchor="middle" fill="#111" stroke="#111" stroke-width="0.3">p-akt<tspan font-size="7" dy="-3.8" font-weight="bold">+</tspan><tspan dy="3.8"></tspan></text>
<line x1="355.10" y1="402.60" x2="369.50" y2="402.60" stroke="#222" stroke-width="0.8"/>
<text x="362.10" y="404.11" font-size="8.5" text-anchor="middle" fill="#111" font-weight="bold">*</text>
<line x1="368.10" y1="395.40" x2="390.00" y2="395.40" stroke="#222" stroke-width="0.8"/>
<text x="378.20" y="396.50" font-size="8.5" text-anchor="middle" fill="#111" font-weight="bold">*</text>
<text x="358.90" y="471.90" font-size="10.3" text-anchor="end" fill="#111" stroke="#111" stroke-width="0.3" transform="rotate(-45 358.90 471.90)">Control</text>
<text x="372.60" y="471.90" font-size="10.3" text-anchor="end" fill="#111" stroke="#111" stroke-width="0.3" transform="rotate(-45 372.60 471.90)">C3a</text>
<text x="391.20" y="471.90" font-size="10.3" text-anchor="end" fill="#111" stroke="#111" stroke-width="0.3" transform="rotate(-45 391.20 471.90)">C3a+IPI549</text>
<line x1="149.80" y1="547.60" x2="149.80" y2="618.30" stroke="#222" stroke-width="0.9"/>
<line x1="149.35" y1="618.30" x2="197.40" y2="618.30" stroke="#222" stroke-width="0.9"/>
<line x1="146.00" y1="561.30" x2="149.80" y2="561.30" stroke="#222" stroke-width="0.9"/>
<text x="144.20" y="564.81" font-size="9.8" text-anchor="end" fill="#111" stroke="#111" stroke-width="0.3">4,000</text>
<line x1="146.00" y1="589.80" x2="149.80" y2="589.80" stroke="#222" stroke-width="0.9"/>
<text x="144.20" y="593.31" font-size="9.8" text-anchor="end" fill="#111" stroke="#111" stroke-width="0.3">2,000</text>
<line x1="146.00" y1="618.30" x2="149.80" y2="618.30" stroke="#222" stroke-width="0.9"/>
<text x="144.20" y="621.81" font-size="9.8" text-anchor="end" fill="#111" stroke="#111" stroke-width="0.3">0</text>
<line x1="156.80" y1="587.80" x2="156.80" y2="586.31" stroke="#222" stroke-width="0.8"/>
<line x1="154.80" y1="586.31" x2="158.80" y2="586.31" stroke="#222" stroke-width="0.9"/>
<rect x="151.90" y="587.80" width="9.80" height="30.50" fill="#000" stroke="#222" stroke-width="0.5"/>
<line x1="156.80" y1="618.30" x2="156.80" y2="622.10" stroke="#333" stroke-width="0.9"/>
<line x1="170.95" y1="566.80" x2="170.95" y2="560.10" stroke="#222" stroke-width="0.8"/>
<line x1="168.95" y1="560.10" x2="172.95" y2="560.10" stroke="#222" stroke-width="0.9"/>
<rect x="166.00" y="566.80" width="9.90" height="51.50" fill="#f20000" stroke="#222" stroke-width="0.5"/>
<line x1="170.95" y1="618.30" x2="170.95" y2="622.10" stroke="#333" stroke-width="0.9"/>
<line x1="189.60" y1="586.31" x2="189.60" y2="581.31" stroke="#222" stroke-width="0.8"/>
<line x1="187.60" y1="581.31" x2="191.60" y2="581.31" stroke="#222" stroke-width="0.9"/>
<rect x="184.70" y="586.31" width="9.80" height="31.99" fill="#ff8c00" stroke="#222" stroke-width="0.5"/>
<line x1="189.60" y1="618.30" x2="189.60" y2="622.10" stroke="#333" stroke-width="0.9"/>
<text x="115.00" y="583.00" font-size="10" text-anchor="middle" fill="#111" stroke="#111" stroke-width="0.3" transform="rotate(-90 115.00 583.00)">MFI of p-akt</text>
<text x="171.40" y="532.70" font-size="10" text-anchor="middle" fill="#111" stroke="#111" stroke-width="0.3">pre-gate</text>
<text x="171.00" y="543.40" font-size="10" text-anchor="middle" fill="#111" stroke="#111" stroke-width="0.3">p-akt<tspan font-size="7" dy="-3.8" font-weight="bold">+</tspan><tspan dy="3.8"> TAMs</tspan></text>
<line x1="155.60" y1="556.90" x2="170.60" y2="556.90" stroke="#222" stroke-width="0.8"/>
<text x="164.00" y="557.61" font-size="8.5" text-anchor="middle" fill="#111" font-weight="bold">*</text>
<line x1="168.30" y1="547.70" x2="193.60" y2="547.70" stroke="#222" stroke-width="0.8"/>
<text x="180.60" y="549.30" font-size="8.5" text-anchor="middle" fill="#111" font-weight="bold">*</text>
<text x="159.70" y="632.00" font-size="10.3" text-anchor="end" fill="#111" stroke="#111" stroke-width="0.3" transform="rotate(-45 159.70 632.00)">Control</text>
<text x="173.70" y="632.00" font-size="10.3" text-anchor="end" fill="#111" stroke="#111" stroke-width="0.3" transform="rotate(-45 173.70 632.00)">C3a</text>
<text x="192.70" y="632.00" font-size="10.3" text-anchor="end" fill="#111" stroke="#111" stroke-width="0.3" transform="rotate(-45 192.70 632.00)">C3a+IPI549</text>
<rect x="51.00" y="224.40" width="64.40" height="63.60" fill="none" stroke="#9a9a9a" stroke-width="0.55"/>
<line x1="49.80" y1="227.40" x2="51.00" y2="227.40" stroke="#444" stroke-width="0.45"/>
<line x1="49.80" y1="231.98" x2="51.00" y2="231.98" stroke="#444" stroke-width="0.45"/>
<line x1="49.80" y1="236.57" x2="51.00" y2="236.57" stroke="#444" stroke-width="0.45"/>
<line x1="49.80" y1="241.15" x2="51.00" y2="241.15" stroke="#444" stroke-width="0.45"/>
<line x1="49.80" y1="245.74" x2="51.00" y2="245.74" stroke="#444" stroke-width="0.45"/>
<line x1="49.80" y1="250.32" x2="51.00" y2="250.32" stroke="#444" stroke-width="0.45"/>
<line x1="49.80" y1="254.91" x2="51.00" y2="254.91" stroke="#444" stroke-width="0.45"/>
<line x1="49.80" y1="259.49" x2="51.00" y2="259.49" stroke="#444" stroke-width="0.45"/>
<line x1="49.80" y1="264.08" x2="51.00" y2="264.08" stroke="#444" stroke-width="0.45"/>
<line x1="49.80" y1="268.66" x2="51.00" y2="268.66" stroke="#444" stroke-width="0.45"/>
<line x1="49.80" y1="273.25" x2="51.00" y2="273.25" stroke="#444" stroke-width="0.45"/>
<line x1="49.80" y1="277.83" x2="51.00" y2="277.83" stroke="#444" stroke-width="0.45"/>
<line x1="49.80" y1="282.42" x2="51.00" y2="282.42" stroke="#444" stroke-width="0.45"/>
<line x1="49.80" y1="287.00" x2="51.00" y2="287.00" stroke="#444" stroke-width="0.45"/>
<line x1="53.00" y1="288.00" x2="53.00" y2="289.20" stroke="#444" stroke-width="0.45"/>
<line x1="56.55" y1="288.00" x2="56.55" y2="289.20" stroke="#444" stroke-width="0.45"/>
<line x1="60.11" y1="288.00" x2="60.11" y2="289.20" stroke="#444" stroke-width="0.45"/>
<line x1="63.66" y1="288.00" x2="63.66" y2="289.20" stroke="#444" stroke-width="0.45"/>
<line x1="67.21" y1="288.00" x2="67.21" y2="289.20" stroke="#444" stroke-width="0.45"/>
<line x1="70.76" y1="288.00" x2="70.76" y2="289.20" stroke="#444" stroke-width="0.45"/>
<line x1="74.32" y1="288.00" x2="74.32" y2="289.20" stroke="#444" stroke-width="0.45"/>
<line x1="77.87" y1="288.00" x2="77.87" y2="289.20" stroke="#444" stroke-width="0.45"/>
<line x1="81.42" y1="288.00" x2="81.42" y2="289.20" stroke="#444" stroke-width="0.45"/>
<line x1="84.98" y1="288.00" x2="84.98" y2="289.20" stroke="#444" stroke-width="0.45"/>
<line x1="88.53" y1="288.00" x2="88.53" y2="289.20" stroke="#444" stroke-width="0.45"/>
<line x1="92.08" y1="288.00" x2="92.08" y2="289.20" stroke="#444" stroke-width="0.45"/>
<line x1="95.64" y1="288.00" x2="95.64" y2="289.20" stroke="#444" stroke-width="0.45"/>
<line x1="99.19" y1="288.00" x2="99.19" y2="289.20" stroke="#444" stroke-width="0.45"/>
<line x1="102.74" y1="288.00" x2="102.74" y2="289.20" stroke="#444" stroke-width="0.45"/>
<line x1="106.29" y1="288.00" x2="106.29" y2="289.20" stroke="#444" stroke-width="0.45"/>
<line x1="109.85" y1="288.00" x2="109.85" y2="289.20" stroke="#444" stroke-width="0.45"/>
<line x1="113.40" y1="288.00" x2="113.40" y2="289.20" stroke="#444" stroke-width="0.45"/>
<line x1="49.00" y1="230.76" x2="51.00" y2="230.76" stroke="#333" stroke-width="0.5"/>
<text x="47.40" y="231.56" font-size="3.2" text-anchor="middle" fill="#222" font-weight="bold" transform="rotate(-90 47.40 231.56)">10⁵</text>
<line x1="49.00" y1="245.71" x2="51.00" y2="245.71" stroke="#333" stroke-width="0.5"/>
<text x="47.40" y="246.51" font-size="3.2" text-anchor="middle" fill="#222" font-weight="bold" transform="rotate(-90 47.40 246.51)">10⁴</text>
<line x1="49.00" y1="262.81" x2="51.00" y2="262.81" stroke="#333" stroke-width="0.5"/>
<text x="47.40" y="263.61" font-size="3.2" text-anchor="middle" fill="#222" font-weight="bold" transform="rotate(-90 47.40 263.61)">10³</text>
<line x1="49.00" y1="273.69" x2="51.00" y2="273.69" stroke="#333" stroke-width="0.5"/>
<text x="47.40" y="274.49" font-size="3.2" text-anchor="middle" fill="#222" font-weight="bold" transform="rotate(-90 47.40 274.49)">0</text>
<line x1="49.00" y1="285.33" x2="51.00" y2="285.33" stroke="#333" stroke-width="0.5"/>
<text x="47.40" y="286.13" font-size="3.2" text-anchor="middle" fill="#222" font-weight="bold" transform="rotate(-90 47.40 286.13)">-10³</text>
<line x1="54.99" y1="288.00" x2="54.99" y2="290.00" stroke="#333" stroke-width="0.5"/>
<text x="54.99" y="295.80" font-size="3.2" text-anchor="middle" fill="#222" font-weight="bold">-10³</text>
<line x1="64.97" y1="288.00" x2="64.97" y2="290.00" stroke="#333" stroke-width="0.5"/>
<text x="64.97" y="295.80" font-size="3.2" text-anchor="middle" fill="#222" font-weight="bold">0</text>
<line x1="76.50" y1="288.00" x2="76.50" y2="290.00" stroke="#333" stroke-width="0.5"/>
<text x="76.50" y="295.80" font-size="3.2" text-anchor="middle" fill="#222" font-weight="bold">10³</text>
<line x1="94.21" y1="288.00" x2="94.21" y2="290.00" stroke="#333" stroke-width="0.5"/>
<text x="94.21" y="295.80" font-size="3.2" text-anchor="middle" fill="#222" font-weight="bold">10⁴</text>
<line x1="109.60" y1="288.00" x2="109.60" y2="290.00" stroke="#333" stroke-width="0.5"/>
<text x="109.60" y="295.80" font-size="3.2" text-anchor="middle" fill="#222" font-weight="bold">10⁵</text>
<text x="81.91" y="300.90" font-size="2.75" text-anchor="middle" fill="#222" font-weight="bold">Comp-PerCP-Cy5-5-A</text>
<text x="42.00" y="256.20" font-size="2.75" text-anchor="middle" fill="#333" font-weight="bold" transform="rotate(-90 42.00 256.20)">Comp-APC-A</text>
<rect x="49.60" y="273.44" width="1.60" height="2.40" fill="#111" stroke="none" stroke-width="0"/>
<rect x="65.17" y="287.20" width="3.20" height="1.60" fill="#111" stroke="none" stroke-width="0"/>
<text x="83.20" y="220.60" font-size="6.2" text-anchor="middle" fill="#111" stroke="#111" stroke-width="0.22">Control</text>
<ellipse cx="78.40" cy="257.30" rx="4.30" ry="6.70" fill="#ececec" stroke="#b4b4b4" stroke-width="0.5"/>
<ellipse cx="78.40" cy="257.60" rx="3.27" ry="5.09" fill="none" stroke="#b4b4b4" stroke-width="0.45"/>
<ellipse cx="78.40" cy="257.90" rx="2.24" ry="3.48" fill="none" stroke="#b4b4b4" stroke-width="0.45"/>
<ellipse cx="78.40" cy="258.20" rx="1.20" ry="1.88" fill="none" stroke="#b4b4b4" stroke-width="0.45"/>
<path d="M88.50,272.20 L88.44,273.70 L88.26,274.75 L87.96,275.64 L87.54,276.42 L87.00,277.11 L86.35,277.72 L85.58,278.23 L84.70,278.65 L83.69,278.97 L82.55,279.21 L81.22,279.35 L79.30,279.40 L77.38,279.35 L76.05,279.21 L74.91,278.97 L73.90,278.65 L73.02,278.23 L72.25,277.72 L71.60,277.11 L71.06,276.42 L70.64,275.64 L70.34,274.75 L70.16,273.70 L70.10,272.20 L70.16,270.70 L70.34,269.65 L70.64,268.76 L71.06,267.98 L71.60,267.29 L72.25,266.68 L73.02,266.17 L73.90,265.75 L74.91,265.43 L76.05,265.19 L77.38,265.05 L79.30,265.00 L81.22,265.05 L82.55,265.19 L83.69,265.43 L84.70,265.75 L85.58,266.17 L86.35,266.68 L87.00,267.29 L87.54,267.98 L87.96,268.76 L88.26,269.65 L88.44,270.70Z" fill="#cfcfcf" stroke="#666" stroke-width="0.55"/>
<path d="M87.64,272.30 L87.59,273.61 L87.43,274.51 L87.17,275.29 L86.80,275.97 L86.34,276.57 L85.77,277.09 L85.10,277.53 L84.34,277.90 L83.47,278.18 L82.47,278.39 L81.32,278.51 L79.65,278.55 L77.98,278.51 L76.83,278.39 L75.83,278.18 L74.96,277.90 L74.20,277.53 L73.53,277.09 L72.96,276.57 L72.50,275.97 L72.13,275.29 L71.87,274.51 L71.71,273.61 L71.66,272.30 L71.71,270.99 L71.87,270.09 L72.13,269.31 L72.50,268.63 L72.96,268.03 L73.53,267.51 L74.20,267.07 L74.96,266.70 L75.83,266.42 L76.83,266.21 L77.98,266.09 L79.65,266.05 L81.32,266.09 L82.47,266.21 L83.47,266.42 L84.34,266.70 L85.10,267.07 L85.77,267.51 L86.34,268.03 L86.80,268.63 L87.17,269.31 L87.43,270.09 L87.59,270.99Z" fill="none" stroke="#5c5c5c" stroke-width="0.5"/>
<path d="M86.78,272.40 L86.73,273.51 L86.60,274.28 L86.38,274.93 L86.07,275.51 L85.67,276.02 L85.19,276.46 L84.63,276.84 L83.98,277.15 L83.24,277.39 L82.40,277.57 L81.42,277.67 L80.00,277.71 L78.58,277.67 L77.60,277.57 L76.76,277.39 L76.02,277.15 L75.37,276.84 L74.81,276.46 L74.33,276.02 L73.93,275.51 L73.62,274.93 L73.40,274.28 L73.27,273.51 L73.22,272.40 L73.27,271.29 L73.40,270.52 L73.62,269.87 L73.93,269.29 L74.33,268.78 L74.81,268.34 L75.37,267.96 L76.02,267.65 L76.76,267.41 L77.60,267.23 L78.58,267.13 L80.00,267.09 L81.42,267.13 L82.40,267.23 L83.24,267.41 L83.98,267.65 L84.63,267.96 L85.19,268.34 L85.67,268.78 L86.07,269.29 L86.38,269.87 L86.60,270.52 L86.73,271.29Z" fill="none" stroke="#9a9a9a" stroke-width="0.5"/>
<path d="M85.92,272.50 L85.88,273.41 L85.77,274.04 L85.59,274.58 L85.34,275.06 L85.01,275.47 L84.62,275.84 L84.15,276.15 L83.62,276.40 L83.01,276.60 L82.32,276.74 L81.51,276.83 L80.35,276.86 L79.19,276.83 L78.38,276.74 L77.69,276.60 L77.08,276.40 L76.55,276.15 L76.08,275.84 L75.69,275.47 L75.36,275.06 L75.11,274.58 L74.93,274.04 L74.82,273.41 L74.78,272.50 L74.82,271.59 L74.93,270.96 L75.11,270.42 L75.36,269.94 L75.69,269.53 L76.08,269.16 L76.55,268.85 L77.08,268.60 L77.69,268.40 L78.38,268.26 L79.19,268.17 L80.35,268.14 L81.51,268.17 L82.32,268.26 L83.01,268.40 L83.62,268.60 L84.15,268.85 L84.62,269.16 L85.01,269.53 L85.34,269.94 L85.59,270.42 L85.77,270.96 L85.88,271.59Z" fill="none" stroke="#5c5c5c" stroke-width="0.5"/>
<path d="M85.06,272.60 L85.03,273.31 L84.94,273.81 L84.80,274.23 L84.60,274.60 L84.35,274.93 L84.04,275.21 L83.67,275.45 L83.26,275.65 L82.78,275.81 L82.24,275.92 L81.61,275.99 L80.70,276.01 L79.79,275.99 L79.16,275.92 L78.62,275.81 L78.14,275.65 L77.73,275.45 L77.36,275.21 L77.05,274.93 L76.80,274.60 L76.60,274.23 L76.46,273.81 L76.37,273.31 L76.34,272.60 L76.37,271.89 L76.46,271.39 L76.60,270.97 L76.80,270.60 L77.05,270.27 L77.36,269.99 L77.73,269.75 L78.14,269.55 L78.62,269.39 L79.16,269.28 L79.79,269.21 L80.70,269.19 L81.61,269.21 L82.24,269.28 L82.78,269.39 L83.26,269.55 L83.67,269.75 L84.04,269.99 L84.35,270.27 L84.60,270.60 L84.80,270.97 L84.94,271.39 L85.03,271.89Z" fill="none" stroke="#9a9a9a" stroke-width="0.5"/>
<path d="M84.20,272.70 L84.18,273.21 L84.11,273.57 L84.01,273.88 L83.87,274.15 L83.68,274.38 L83.46,274.59 L83.20,274.76 L82.90,274.91 L82.55,275.02 L82.16,275.10 L81.71,275.15 L81.05,275.16 L80.39,275.15 L79.94,275.10 L79.55,275.02 L79.20,274.91 L78.90,274.76 L78.64,274.59 L78.42,274.38 L78.23,274.15 L78.09,273.88 L77.99,273.57 L77.92,273.21 L77.90,272.70 L77.92,272.19 L77.99,271.83 L78.09,271.52 L78.23,271.25 L78.42,271.02 L78.64,270.81 L78.90,270.64 L79.20,270.49 L79.55,270.38 L79.94,270.30 L80.39,270.25 L81.05,270.24 L81.71,270.25 L82.16,270.30 L82.55,270.38 L82.90,270.49 L83.20,270.64 L83.46,270.81 L83.68,271.02 L83.87,271.25 L84.01,271.52 L84.11,271.83 L84.18,272.19Z" fill="none" stroke="#5c5c5c" stroke-width="0.5"/>
<path d="M83.34,272.80 L83.32,273.12 L83.29,273.34 L83.22,273.52 L83.13,273.69 L83.02,273.83 L82.88,273.96 L82.72,274.07 L82.54,274.16 L82.33,274.23 L82.08,274.28 L81.80,274.31 L81.40,274.32 L81.00,274.31 L80.72,274.28 L80.47,274.23 L80.26,274.16 L80.08,274.07 L79.92,273.96 L79.78,273.83 L79.67,273.69 L79.58,273.52 L79.51,273.34 L79.48,273.12 L79.46,272.80 L79.48,272.48 L79.51,272.26 L79.58,272.08 L79.67,271.91 L79.78,271.77 L79.92,271.64 L80.08,271.53 L80.26,271.44 L80.47,271.37 L80.72,271.32 L81.00,271.29 L81.40,271.28 L81.80,271.29 L82.08,271.32 L82.33,271.37 L82.54,271.44 L82.72,271.53 L82.88,271.64 L83.02,271.77 L83.13,271.91 L83.22,272.08 L83.29,272.26 L83.32,272.48Z" fill="none" stroke="#9a9a9a" stroke-width="0.5"/>
<ellipse cx="81.80" cy="272.70" rx="2.94" ry="1.44" fill="#f4f4f4" stroke="none"/>
<rect x="70.60" y="237.50" width="26.50" height="25.80" fill="none" stroke="#505050" stroke-width="0.65"/>
<text x="83.70" y="234.45" font-size="6.0" text-anchor="middle" fill="#cc4848">11.8</text>
<rect x="130.10" y="224.30" width="64.90" height="63.50" fill="none" stroke="#9a9a9a" stroke-width="0.55"/>
<line x1="128.90" y1="227.30" x2="130.10" y2="227.30" stroke="#444" stroke-width="0.45"/>
<line x1="128.90" y1="231.88" x2="130.10" y2="231.88" stroke="#444" stroke-width="0.45"/>
<line x1="128.90" y1="236.45" x2="130.10" y2="236.45" stroke="#444" stroke-width="0.45"/>
<line x1="128.90" y1="241.03" x2="130.10" y2="241.03" stroke="#444" stroke-width="0.45"/>
<line x1="128.90" y1="245.61" x2="130.10" y2="245.61" stroke="#444" stroke-width="0.45"/>
<line x1="128.90" y1="250.18" x2="130.10" y2="250.18" stroke="#444" stroke-width="0.45"/>
<line x1="128.90" y1="254.76" x2="130.10" y2="254.76" stroke="#444" stroke-width="0.45"/>
<line x1="128.90" y1="259.34" x2="130.10" y2="259.34" stroke="#444" stroke-width="0.45"/>
<line x1="128.90" y1="263.92" x2="130.10" y2="263.92" stroke="#444" stroke-width="0.45"/>
<line x1="128.90" y1="268.49" x2="130.10" y2="268.49" stroke="#444" stroke-width="0.45"/>
<line x1="128.90" y1="273.07" x2="130.10" y2="273.07" stroke="#444" stroke-width="0.45"/>
<line x1="128.90" y1="277.65" x2="130.10" y2="277.65" stroke="#444" stroke-width="0.45"/>
<line x1="128.90" y1="282.22" x2="130.10" y2="282.22" stroke="#444" stroke-width="0.45"/>
<line x1="128.90" y1="286.80" x2="130.10" y2="286.80" stroke="#444" stroke-width="0.45"/>
<line x1="132.10" y1="287.80" x2="132.10" y2="289.00" stroke="#444" stroke-width="0.45"/>
<line x1="135.68" y1="287.80" x2="135.68" y2="289.00" stroke="#444" stroke-width="0.45"/>
<line x1="139.26" y1="287.80" x2="139.26" y2="289.00" stroke="#444" stroke-width="0.45"/>
<line x1="142.85" y1="287.80" x2="142.85" y2="289.00" stroke="#444" stroke-width="0.45"/>
<line x1="146.43" y1="287.80" x2="146.43" y2="289.00" stroke="#444" stroke-width="0.45"/>
<line x1="150.01" y1="287.80" x2="150.01" y2="289.00" stroke="#444" stroke-width="0.45"/>
<line x1="153.59" y1="287.80" x2="153.59" y2="289.00" stroke="#444" stroke-width="0.45"/>
<line x1="157.18" y1="287.80" x2="157.18" y2="289.00" stroke="#444" stroke-width="0.45"/>
<line x1="160.76" y1="287.80" x2="160.76" y2="289.00" stroke="#444" stroke-width="0.45"/>
<line x1="164.34" y1="287.80" x2="164.34" y2="289.00" stroke="#444" stroke-width="0.45"/>
<line x1="167.92" y1="287.80" x2="167.92" y2="289.00" stroke="#444" stroke-width="0.45"/>
<line x1="171.51" y1="287.80" x2="171.51" y2="289.00" stroke="#444" stroke-width="0.45"/>
<line x1="175.09" y1="287.80" x2="175.09" y2="289.00" stroke="#444" stroke-width="0.45"/>
<line x1="178.67" y1="287.80" x2="178.67" y2="289.00" stroke="#444" stroke-width="0.45"/>
<line x1="182.25" y1="287.80" x2="182.25" y2="289.00" stroke="#444" stroke-width="0.45"/>
<line x1="185.84" y1="287.80" x2="185.84" y2="289.00" stroke="#444" stroke-width="0.45"/>
<line x1="189.42" y1="287.80" x2="189.42" y2="289.00" stroke="#444" stroke-width="0.45"/>
<line x1="193.00" y1="287.80" x2="193.00" y2="289.00" stroke="#444" stroke-width="0.45"/>
<line x1="128.10" y1="230.65" x2="130.10" y2="230.65" stroke="#333" stroke-width="0.5"/>
<text x="126.50" y="231.45" font-size="3.2" text-anchor="middle" fill="#222" font-weight="bold" transform="rotate(-90 126.50 231.45)">10⁵</text>
<line x1="128.10" y1="245.57" x2="130.10" y2="245.57" stroke="#333" stroke-width="0.5"/>
<text x="126.50" y="246.37" font-size="3.2" text-anchor="middle" fill="#222" font-weight="bold" transform="rotate(-90 126.50 246.37)">10⁴</text>
<line x1="128.10" y1="262.65" x2="130.10" y2="262.65" stroke="#333" stroke-width="0.5"/>
<text x="126.50" y="263.45" font-size="3.2" text-anchor="middle" fill="#222" font-weight="bold" transform="rotate(-90 126.50 263.45)">10³</text>
<line x1="128.10" y1="273.51" x2="130.10" y2="273.51" stroke="#333" stroke-width="0.5"/>
<text x="126.50" y="274.31" font-size="3.2" text-anchor="middle" fill="#222" font-weight="bold" transform="rotate(-90 126.50 274.31)">0</text>
<line x1="128.10" y1="285.13" x2="130.10" y2="285.13" stroke="#333" stroke-width="0.5"/>
<text x="126.50" y="285.93" font-size="3.2" text-anchor="middle" fill="#222" font-weight="bold" transform="rotate(-90 126.50 285.93)">-10³</text>
<line x1="134.12" y1="287.80" x2="134.12" y2="289.80" stroke="#333" stroke-width="0.5"/>
<text x="134.12" y="295.60" font-size="3.2" text-anchor="middle" fill="#222" font-weight="bold">-10³</text>
<line x1="144.18" y1="287.80" x2="144.18" y2="289.80" stroke="#333" stroke-width="0.5"/>
<text x="144.18" y="295.60" font-size="3.2" text-anchor="middle" fill="#222" font-weight="bold">0</text>
<line x1="155.80" y1="287.80" x2="155.80" y2="289.80" stroke="#333" stroke-width="0.5"/>
<text x="155.80" y="295.60" font-size="3.2" text-anchor="middle" fill="#222" font-weight="bold">10³</text>
<line x1="173.65" y1="287.80" x2="173.65" y2="289.80" stroke="#333" stroke-width="0.5"/>
<text x="173.65" y="295.60" font-size="3.2" text-anchor="middle" fill="#222" font-weight="bold">10⁴</text>
<line x1="189.16" y1="287.80" x2="189.16" y2="289.80" stroke="#333" stroke-width="0.5"/>
<text x="189.16" y="295.60" font-size="3.2" text-anchor="middle" fill="#222" font-weight="bold">10⁵</text>
<text x="161.25" y="300.70" font-size="2.75" text-anchor="middle" fill="#222" font-weight="bold">Comp-PerCP-Cy5-5-A</text>
<text x="121.10" y="256.05" font-size="2.75" text-anchor="middle" fill="#333" font-weight="bold" transform="rotate(-90 121.10 256.05)">Comp-APC-A</text>
<rect x="128.70" y="273.27" width="1.60" height="2.40" fill="#111" stroke="none" stroke-width="0"/>
<rect x="144.38" y="287.00" width="3.20" height="1.60" fill="#111" stroke="none" stroke-width="0"/>
<text x="162.55" y="220.50" font-size="6.2" text-anchor="middle" fill="#111" stroke="#111" stroke-width="0.22">+C3a</text>
<ellipse cx="159.60" cy="253.20" rx="5.00" ry="6.50" fill="#d2d2d2" stroke="#999" stroke-width="0.5"/>
<ellipse cx="159.60" cy="253.50" rx="3.80" ry="4.94" fill="none" stroke="#999" stroke-width="0.45"/>
<ellipse cx="159.60" cy="253.80" rx="2.60" ry="3.38" fill="none" stroke="#999" stroke-width="0.45"/>
<ellipse cx="159.60" cy="254.10" rx="1.40" ry="1.82" fill="none" stroke="#999" stroke-width="0.45"/>
<path d="M168.30,272.00 L168.24,273.50 L168.05,274.55 L167.74,275.44 L167.32,276.22 L166.77,276.91 L166.10,277.52 L165.32,278.03 L164.42,278.45 L163.39,278.77 L162.22,279.01 L160.86,279.15 L158.90,279.20 L156.94,279.15 L155.58,279.01 L154.41,278.77 L153.38,278.45 L152.48,278.03 L151.70,277.52 L151.03,276.91 L150.48,276.22 L150.06,275.44 L149.75,274.55 L149.56,273.50 L149.50,272.00 L149.56,270.50 L149.75,269.45 L150.06,268.56 L150.48,267.78 L151.03,267.09 L151.70,266.48 L152.48,265.97 L153.38,265.55 L154.41,265.23 L155.58,264.99 L156.94,264.85 L158.90,264.80 L160.86,264.85 L162.22,264.99 L163.39,265.23 L164.42,265.55 L165.32,265.97 L166.10,266.48 L166.77,267.09 L167.32,267.78 L167.74,268.56 L168.05,269.45 L168.24,270.50Z" fill="#cfcfcf" stroke="#666" stroke-width="0.55"/>
<path d="M167.41,272.10 L167.36,273.41 L167.20,274.31 L166.93,275.09 L166.56,275.77 L166.08,276.37 L165.50,276.89 L164.82,277.33 L164.04,277.70 L163.15,277.98 L162.14,278.19 L160.95,278.31 L159.25,278.35 L157.55,278.31 L156.36,278.19 L155.35,277.98 L154.46,277.70 L153.68,277.33 L153.00,276.89 L152.42,276.37 L151.94,275.77 L151.57,275.09 L151.30,274.31 L151.14,273.41 L151.09,272.10 L151.14,270.79 L151.30,269.89 L151.57,269.11 L151.94,268.43 L152.42,267.83 L153.00,267.31 L153.68,266.87 L154.46,266.50 L155.35,266.22 L156.36,266.01 L157.55,265.89 L159.25,265.85 L160.95,265.89 L162.14,266.01 L163.15,266.22 L164.04,266.50 L164.82,266.87 L165.50,267.31 L166.08,267.83 L166.56,268.43 L166.93,269.11 L167.20,269.89 L167.36,270.79Z" fill="none" stroke="#5c5c5c" stroke-width="0.5"/>
<path d="M166.53,272.20 L166.48,273.31 L166.34,274.08 L166.12,274.73 L165.80,275.31 L165.40,275.82 L164.91,276.26 L164.33,276.64 L163.66,276.95 L162.91,277.19 L162.05,277.37 L161.05,277.47 L159.60,277.51 L158.15,277.47 L157.15,277.37 L156.29,277.19 L155.54,276.95 L154.87,276.64 L154.29,276.26 L153.80,275.82 L153.40,275.31 L153.08,274.73 L152.86,274.08 L152.72,273.31 L152.67,272.20 L152.72,271.09 L152.86,270.32 L153.08,269.67 L153.40,269.09 L153.80,268.58 L154.29,268.14 L154.87,267.76 L155.54,267.45 L156.29,267.21 L157.15,267.03 L158.15,266.93 L159.60,266.89 L161.05,266.93 L162.05,267.03 L162.91,267.21 L163.66,267.45 L164.33,267.76 L164.91,268.14 L165.40,268.58 L165.80,269.09 L166.12,269.67 L166.34,270.32 L166.48,271.09Z" fill="none" stroke="#9a9a9a" stroke-width="0.5"/>
<path d="M165.64,272.30 L165.60,273.21 L165.49,273.84 L165.30,274.38 L165.04,274.86 L164.71,275.27 L164.31,275.64 L163.83,275.95 L163.29,276.20 L162.67,276.40 L161.96,276.54 L161.14,276.63 L159.95,276.66 L158.76,276.63 L157.94,276.54 L157.23,276.40 L156.61,276.20 L156.07,275.95 L155.59,275.64 L155.19,275.27 L154.86,274.86 L154.60,274.38 L154.41,273.84 L154.30,273.21 L154.26,272.30 L154.30,271.39 L154.41,270.76 L154.60,270.22 L154.86,269.74 L155.19,269.33 L155.59,268.96 L156.07,268.65 L156.61,268.40 L157.23,268.20 L157.94,268.06 L158.76,267.97 L159.95,267.94 L161.14,267.97 L161.96,268.06 L162.67,268.20 L163.29,268.40 L163.83,268.65 L164.31,268.96 L164.71,269.33 L165.04,269.74 L165.30,270.22 L165.49,270.76 L165.60,271.39Z" fill="none" stroke="#5c5c5c" stroke-width="0.5"/>
<path d="M164.75,272.40 L164.72,273.11 L164.64,273.61 L164.49,274.03 L164.29,274.40 L164.03,274.73 L163.71,275.01 L163.34,275.25 L162.91,275.45 L162.43,275.61 L161.87,275.72 L161.23,275.79 L160.30,275.81 L159.37,275.79 L158.73,275.72 L158.17,275.61 L157.69,275.45 L157.26,275.25 L156.89,275.01 L156.57,274.73 L156.31,274.40 L156.11,274.03 L155.96,273.61 L155.88,273.11 L155.85,272.40 L155.88,271.69 L155.96,271.19 L156.11,270.77 L156.31,270.40 L156.57,270.07 L156.89,269.79 L157.26,269.55 L157.69,269.35 L158.17,269.19 L158.73,269.08 L159.37,269.01 L160.30,268.99 L161.23,269.01 L161.87,269.08 L162.43,269.19 L162.91,269.35 L163.34,269.55 L163.71,269.79 L164.03,270.07 L164.29,270.40 L164.49,270.77 L164.64,271.19 L164.72,271.69Z" fill="none" stroke="#9a9a9a" stroke-width="0.5"/>
<path d="M163.87,272.50 L163.84,273.01 L163.78,273.37 L163.68,273.68 L163.53,273.95 L163.34,274.18 L163.11,274.39 L162.85,274.56 L162.54,274.71 L162.19,274.82 L161.79,274.90 L161.32,274.95 L160.65,274.96 L159.98,274.95 L159.51,274.90 L159.11,274.82 L158.76,274.71 L158.45,274.56 L158.19,274.39 L157.96,274.18 L157.77,273.95 L157.62,273.68 L157.52,273.37 L157.46,273.01 L157.43,272.50 L157.46,271.99 L157.52,271.63 L157.62,271.32 L157.77,271.05 L157.96,270.82 L158.19,270.61 L158.45,270.44 L158.76,270.29 L159.11,270.18 L159.51,270.10 L159.98,270.05 L160.65,270.04 L161.32,270.05 L161.79,270.10 L162.19,270.18 L162.54,270.29 L162.85,270.44 L163.11,270.61 L163.34,270.82 L163.53,271.05 L163.68,271.32 L163.78,271.63 L163.84,271.99Z" fill="none" stroke="#5c5c5c" stroke-width="0.5"/>
<path d="M162.98,272.60 L162.97,272.92 L162.93,273.14 L162.86,273.32 L162.77,273.49 L162.66,273.63 L162.52,273.76 L162.35,273.87 L162.16,273.96 L161.95,274.03 L161.70,274.08 L161.41,274.11 L161.00,274.12 L160.59,274.11 L160.30,274.08 L160.05,274.03 L159.84,273.96 L159.65,273.87 L159.48,273.76 L159.34,273.63 L159.23,273.49 L159.14,273.32 L159.07,273.14 L159.03,272.92 L159.02,272.60 L159.03,272.28 L159.07,272.06 L159.14,271.88 L159.23,271.71 L159.34,271.57 L159.48,271.44 L159.65,271.33 L159.84,271.24 L160.05,271.17 L160.30,271.12 L160.59,271.09 L161.00,271.08 L161.41,271.09 L161.70,271.12 L161.95,271.17 L162.16,271.24 L162.35,271.33 L162.52,271.44 L162.66,271.57 L162.77,271.71 L162.86,271.88 L162.93,272.06 L162.97,272.28Z" fill="none" stroke="#9a9a9a" stroke-width="0.5"/>
<ellipse cx="161.40" cy="272.50" rx="3.01" ry="1.44" fill="#f4f4f4" stroke="none"/>
<rect x="149.20" y="237.30" width="27.30" height="26.30" fill="none" stroke="#505050" stroke-width="0.65"/>
<text x="162.50" y="234.45" font-size="6.0" text-anchor="middle" fill="#cc4848">24.6</text>
<rect x="209.00" y="224.30" width="63.80" height="63.20" fill="none" stroke="#9a9a9a" stroke-width="0.55"/>
<line x1="207.80" y1="227.30" x2="209.00" y2="227.30" stroke="#444" stroke-width="0.45"/>
<line x1="207.80" y1="231.85" x2="209.00" y2="231.85" stroke="#444" stroke-width="0.45"/>
<line x1="207.80" y1="236.41" x2="209.00" y2="236.41" stroke="#444" stroke-width="0.45"/>
<line x1="207.80" y1="240.96" x2="209.00" y2="240.96" stroke="#444" stroke-width="0.45"/>
<line x1="207.80" y1="245.52" x2="209.00" y2="245.52" stroke="#444" stroke-width="0.45"/>
<line x1="207.80" y1="250.07" x2="209.00" y2="250.07" stroke="#444" stroke-width="0.45"/>
<line x1="207.80" y1="254.62" x2="209.00" y2="254.62" stroke="#444" stroke-width="0.45"/>
<line x1="207.80" y1="259.18" x2="209.00" y2="259.18" stroke="#444" stroke-width="0.45"/>
<line x1="207.80" y1="263.73" x2="209.00" y2="263.73" stroke="#444" stroke-width="0.45"/>
<line x1="207.80" y1="268.28" x2="209.00" y2="268.28" stroke="#444" stroke-width="0.45"/>
<line x1="207.80" y1="272.84" x2="209.00" y2="272.84" stroke="#444" stroke-width="0.45"/>
<line x1="207.80" y1="277.39" x2="209.00" y2="277.39" stroke="#444" stroke-width="0.45"/>
<line x1="207.80" y1="281.95" x2="209.00" y2="281.95" stroke="#444" stroke-width="0.45"/>
<line x1="207.80" y1="286.50" x2="209.00" y2="286.50" stroke="#444" stroke-width="0.45"/>
<line x1="211.00" y1="287.50" x2="211.00" y2="288.70" stroke="#444" stroke-width="0.45"/>
<line x1="214.52" y1="287.50" x2="214.52" y2="288.70" stroke="#444" stroke-width="0.45"/>
<line x1="218.04" y1="287.50" x2="218.04" y2="288.70" stroke="#444" stroke-width="0.45"/>
<line x1="221.55" y1="287.50" x2="221.55" y2="288.70" stroke="#444" stroke-width="0.45"/>
<line x1="225.07" y1="287.50" x2="225.07" y2="288.70" stroke="#444" stroke-width="0.45"/>
<line x1="228.59" y1="287.50" x2="228.59" y2="288.70" stroke="#444" stroke-width="0.45"/>
<line x1="232.11" y1="287.50" x2="232.11" y2="288.70" stroke="#444" stroke-width="0.45"/>
<line x1="235.62" y1="287.50" x2="235.62" y2="288.70" stroke="#444" stroke-width="0.45"/>
<line x1="239.14" y1="287.50" x2="239.14" y2="288.70" stroke="#444" stroke-width="0.45"/>
<line x1="242.66" y1="287.50" x2="242.66" y2="288.70" stroke="#444" stroke-width="0.45"/>
<line x1="246.18" y1="287.50" x2="246.18" y2="288.70" stroke="#444" stroke-width="0.45"/>
<line x1="249.69" y1="287.50" x2="249.69" y2="288.70" stroke="#444" stroke-width="0.45"/>
<line x1="253.21" y1="287.50" x2="253.21" y2="288.70" stroke="#444" stroke-width="0.45"/>
<line x1="256.73" y1="287.50" x2="256.73" y2="288.70" stroke="#444" stroke-width="0.45"/>
<line x1="260.25" y1="287.50" x2="260.25" y2="288.70" stroke="#444" stroke-width="0.45"/>
<line x1="263.76" y1="287.50" x2="263.76" y2="288.70" stroke="#444" stroke-width="0.45"/>
<line x1="267.28" y1="287.50" x2="267.28" y2="288.70" stroke="#444" stroke-width="0.45"/>
<line x1="270.80" y1="287.50" x2="270.80" y2="288.70" stroke="#444" stroke-width="0.45"/>
<line x1="207.00" y1="230.62" x2="209.00" y2="230.62" stroke="#333" stroke-width="0.5"/>
<text x="205.40" y="231.42" font-size="3.2" text-anchor="middle" fill="#222" font-weight="bold" transform="rotate(-90 205.40 231.42)">10⁵</text>
<line x1="207.00" y1="245.47" x2="209.00" y2="245.47" stroke="#333" stroke-width="0.5"/>
<text x="205.40" y="246.27" font-size="3.2" text-anchor="middle" fill="#222" font-weight="bold" transform="rotate(-90 205.40 246.27)">10⁴</text>
<line x1="207.00" y1="262.47" x2="209.00" y2="262.47" stroke="#333" stroke-width="0.5"/>
<text x="205.40" y="263.27" font-size="3.2" text-anchor="middle" fill="#222" font-weight="bold" transform="rotate(-90 205.40 263.27)">10³</text>
<line x1="207.00" y1="273.28" x2="209.00" y2="273.28" stroke="#333" stroke-width="0.5"/>
<text x="205.40" y="274.08" font-size="3.2" text-anchor="middle" fill="#222" font-weight="bold" transform="rotate(-90 205.40 274.08)">0</text>
<line x1="207.00" y1="284.85" x2="209.00" y2="284.85" stroke="#333" stroke-width="0.5"/>
<text x="205.40" y="285.65" font-size="3.2" text-anchor="middle" fill="#222" font-weight="bold" transform="rotate(-90 205.40 285.65)">-10³</text>
<line x1="212.96" y1="287.50" x2="212.96" y2="289.50" stroke="#333" stroke-width="0.5"/>
<text x="212.96" y="295.30" font-size="3.2" text-anchor="middle" fill="#222" font-weight="bold">-10³</text>
<line x1="222.84" y1="287.50" x2="222.84" y2="289.50" stroke="#333" stroke-width="0.5"/>
<text x="222.84" y="295.30" font-size="3.2" text-anchor="middle" fill="#222" font-weight="bold">0</text>
<line x1="234.26" y1="287.50" x2="234.26" y2="289.50" stroke="#333" stroke-width="0.5"/>
<text x="234.26" y="295.30" font-size="3.2" text-anchor="middle" fill="#222" font-weight="bold">10³</text>
<line x1="251.81" y1="287.50" x2="251.81" y2="289.50" stroke="#333" stroke-width="0.5"/>
<text x="251.81" y="295.30" font-size="3.2" text-anchor="middle" fill="#222" font-weight="bold">10⁴</text>
<line x1="267.06" y1="287.50" x2="267.06" y2="289.50" stroke="#333" stroke-width="0.5"/>
<text x="267.06" y="295.30" font-size="3.2" text-anchor="middle" fill="#222" font-weight="bold">10⁵</text>
<text x="239.62" y="300.40" font-size="2.75" text-anchor="middle" fill="#222" font-weight="bold">Comp-PerCP-Cy5-5-A</text>
<text x="200.00" y="255.90" font-size="2.75" text-anchor="middle" fill="#333" font-weight="bold" transform="rotate(-90 200.00 255.90)">Comp-APC-A</text>
<rect x="207.60" y="273.03" width="1.60" height="2.40" fill="#111" stroke="none" stroke-width="0"/>
<rect x="223.04" y="286.70" width="3.20" height="1.60" fill="#111" stroke="none" stroke-width="0"/>
<text x="240.90" y="213.30" font-size="6.2" text-anchor="middle" fill="#111" stroke="#111" stroke-width="0.22">+C3a</text>
<text x="240.90" y="220.50" font-size="6.2" text-anchor="middle" fill="#111" stroke="#111" stroke-width="0.22">+C3aRa</text>
<ellipse cx="238.90" cy="256.80" rx="4.30" ry="6.50" fill="#ececec" stroke="#b4b4b4" stroke-width="0.5"/>
<ellipse cx="238.90" cy="257.10" rx="3.27" ry="4.94" fill="none" stroke="#b4b4b4" stroke-width="0.45"/>
<ellipse cx="238.90" cy="257.40" rx="2.24" ry="3.38" fill="none" stroke="#b4b4b4" stroke-width="0.45"/>
<ellipse cx="238.90" cy="257.70" rx="1.20" ry="1.82" fill="none" stroke="#b4b4b4" stroke-width="0.45"/>
<path d="M246.90,272.00 L246.84,273.50 L246.65,274.55 L246.34,275.44 L245.92,276.22 L245.37,276.91 L244.70,277.52 L243.92,278.03 L243.02,278.45 L241.99,278.77 L240.82,279.01 L239.46,279.15 L237.50,279.20 L235.54,279.15 L234.18,279.01 L233.01,278.77 L231.98,278.45 L231.08,278.03 L230.30,277.52 L229.63,276.91 L229.08,276.22 L228.66,275.44 L228.35,274.55 L228.16,273.50 L228.10,272.00 L228.16,270.50 L228.35,269.45 L228.66,268.56 L229.08,267.78 L229.63,267.09 L230.30,266.48 L231.08,265.97 L231.98,265.55 L233.01,265.23 L234.18,264.99 L235.54,264.85 L237.50,264.80 L239.46,264.85 L240.82,264.99 L241.99,265.23 L243.02,265.55 L243.92,265.97 L244.70,266.48 L245.37,267.09 L245.92,267.78 L246.34,268.56 L246.65,269.45 L246.84,270.50Z" fill="#cfcfcf" stroke="#666" stroke-width="0.55"/>
<path d="M246.01,272.10 L245.96,273.41 L245.80,274.31 L245.53,275.09 L245.16,275.77 L244.68,276.37 L244.10,276.89 L243.42,277.33 L242.64,277.70 L241.75,277.98 L240.74,278.19 L239.55,278.31 L237.85,278.35 L236.15,278.31 L234.96,278.19 L233.95,277.98 L233.06,277.70 L232.28,277.33 L231.60,276.89 L231.02,276.37 L230.54,275.77 L230.17,275.09 L229.90,274.31 L229.74,273.41 L229.69,272.10 L229.74,270.79 L229.90,269.89 L230.17,269.11 L230.54,268.43 L231.02,267.83 L231.60,267.31 L232.28,266.87 L233.06,266.50 L233.95,266.22 L234.96,266.01 L236.15,265.89 L237.85,265.85 L239.55,265.89 L240.74,266.01 L241.75,266.22 L242.64,266.50 L243.42,266.87 L244.10,267.31 L244.68,267.83 L245.16,268.43 L245.53,269.11 L245.80,269.89 L245.96,270.79Z" fill="none" stroke="#5c5c5c" stroke-width="0.5"/>
<path d="M245.13,272.20 L245.08,273.31 L244.94,274.08 L244.72,274.73 L244.40,275.31 L244.00,275.82 L243.51,276.26 L242.93,276.64 L242.26,276.95 L241.51,277.19 L240.65,277.37 L239.65,277.47 L238.20,277.51 L236.75,277.47 L235.75,277.37 L234.89,277.19 L234.14,276.95 L233.47,276.64 L232.89,276.26 L232.40,275.82 L232.00,275.31 L231.68,274.73 L231.46,274.08 L231.32,273.31 L231.27,272.20 L231.32,271.09 L231.46,270.32 L231.68,269.67 L232.00,269.09 L232.40,268.58 L232.89,268.14 L233.47,267.76 L234.14,267.45 L234.89,267.21 L235.75,267.03 L236.75,266.93 L238.20,266.89 L239.65,266.93 L240.65,267.03 L241.51,267.21 L242.26,267.45 L242.93,267.76 L243.51,268.14 L244.00,268.58 L244.40,269.09 L244.72,269.67 L244.94,270.32 L245.08,271.09Z" fill="none" stroke="#9a9a9a" stroke-width="0.5"/>
<path d="M244.24,272.30 L244.20,273.21 L244.09,273.84 L243.90,274.38 L243.64,274.86 L243.31,275.27 L242.91,275.64 L242.43,275.95 L241.89,276.20 L241.27,276.40 L240.56,276.54 L239.74,276.63 L238.55,276.66 L237.36,276.63 L236.54,276.54 L235.83,276.40 L235.21,276.20 L234.67,275.95 L234.19,275.64 L233.79,275.27 L233.46,274.86 L233.20,274.38 L233.01,273.84 L232.90,273.21 L232.86,272.30 L232.90,271.39 L233.01,270.76 L233.20,270.22 L233.46,269.74 L233.79,269.33 L234.19,268.96 L234.67,268.65 L235.21,268.40 L235.83,268.20 L236.54,268.06 L237.36,267.97 L238.55,267.94 L239.74,267.97 L240.56,268.06 L241.27,268.20 L241.89,268.40 L242.43,268.65 L242.91,268.96 L243.31,269.33 L243.64,269.74 L243.90,270.22 L244.09,270.76 L244.20,271.39Z" fill="none" stroke="#5c5c5c" stroke-width="0.5"/>
<path d="M243.35,272.40 L243.32,273.11 L243.24,273.61 L243.09,274.03 L242.89,274.40 L242.63,274.73 L242.31,275.01 L241.94,275.25 L241.51,275.45 L241.03,275.61 L240.47,275.72 L239.83,275.79 L238.90,275.81 L237.97,275.79 L237.33,275.72 L236.77,275.61 L236.29,275.45 L235.86,275.25 L235.49,275.01 L235.17,274.73 L234.91,274.40 L234.71,274.03 L234.56,273.61 L234.48,273.11 L234.45,272.40 L234.48,271.69 L234.56,271.19 L234.71,270.77 L234.91,270.40 L235.17,270.07 L235.49,269.79 L235.86,269.55 L236.29,269.35 L236.77,269.19 L237.33,269.08 L237.97,269.01 L238.90,268.99 L239.83,269.01 L240.47,269.08 L241.03,269.19 L241.51,269.35 L241.94,269.55 L242.31,269.79 L242.63,270.07 L242.89,270.40 L243.09,270.77 L243.24,271.19 L243.32,271.69Z" fill="none" stroke="#9a9a9a" stroke-width="0.5"/>
<path d="M242.47,272.50 L242.44,273.01 L242.38,273.37 L242.28,273.68 L242.13,273.95 L241.94,274.18 L241.71,274.39 L241.45,274.56 L241.14,274.71 L240.79,274.82 L240.39,274.90 L239.92,274.95 L239.25,274.96 L238.58,274.95 L238.11,274.90 L237.71,274.82 L237.36,274.71 L237.05,274.56 L236.79,274.39 L236.56,274.18 L236.37,273.95 L236.22,273.68 L236.12,273.37 L236.06,273.01 L236.03,272.50 L236.06,271.99 L236.12,271.63 L236.22,271.32 L236.37,271.05 L236.56,270.82 L236.79,270.61 L237.05,270.44 L237.36,270.29 L237.71,270.18 L238.11,270.10 L238.58,270.05 L239.25,270.04 L239.92,270.05 L240.39,270.10 L240.79,270.18 L241.14,270.29 L241.45,270.44 L241.71,270.61 L241.94,270.82 L242.13,271.05 L242.28,271.32 L242.38,271.63 L242.44,271.99Z" fill="none" stroke="#5c5c5c" stroke-width="0.5"/>
<path d="M241.58,272.60 L241.57,272.92 L241.53,273.14 L241.46,273.32 L241.37,273.49 L241.26,273.63 L241.12,273.76 L240.95,273.87 L240.76,273.96 L240.55,274.03 L240.30,274.08 L240.01,274.11 L239.60,274.12 L239.19,274.11 L238.90,274.08 L238.65,274.03 L238.44,273.96 L238.25,273.87 L238.08,273.76 L237.94,273.63 L237.83,273.49 L237.74,273.32 L237.67,273.14 L237.63,272.92 L237.62,272.60 L237.63,272.28 L237.67,272.06 L237.74,271.88 L237.83,271.71 L237.94,271.57 L238.08,271.44 L238.25,271.33 L238.44,271.24 L238.65,271.17 L238.90,271.12 L239.19,271.09 L239.60,271.08 L240.01,271.09 L240.30,271.12 L240.55,271.17 L240.76,271.24 L240.95,271.33 L241.12,271.44 L241.26,271.57 L241.37,271.71 L241.46,271.88 L241.53,272.06 L241.57,272.28Z" fill="none" stroke="#9a9a9a" stroke-width="0.5"/>
<ellipse cx="240.00" cy="272.50" rx="3.01" ry="1.44" fill="#f4f4f4" stroke="none"/>
<rect x="228.50" y="237.30" width="27.00" height="26.00" fill="none" stroke="#505050" stroke-width="0.65"/>
<text x="242.20" y="234.45" font-size="6.0" text-anchor="middle" fill="#cc4848">14.3</text>
<rect x="288.20" y="224.30" width="63.90" height="63.50" fill="none" stroke="#9a9a9a" stroke-width="0.55"/>
<line x1="287.00" y1="227.30" x2="288.20" y2="227.30" stroke="#444" stroke-width="0.45"/>
<line x1="287.00" y1="231.88" x2="288.20" y2="231.88" stroke="#444" stroke-width="0.45"/>
<line x1="287.00" y1="236.45" x2="288.20" y2="236.45" stroke="#444" stroke-width="0.45"/>
<line x1="287.00" y1="241.03" x2="288.20" y2="241.03" stroke="#444" stroke-width="0.45"/>
<line x1="287.00" y1="245.61" x2="288.20" y2="245.61" stroke="#444" stroke-width="0.45"/>
<line x1="287.00" y1="250.18" x2="288.20" y2="250.18" stroke="#444" stroke-width="0.45"/>
<line x1="287.00" y1="254.76" x2="288.20" y2="254.76" stroke="#444" stroke-width="0.45"/>
<line x1="287.00" y1="259.34" x2="288.20" y2="259.34" stroke="#444" stroke-width="0.45"/>
<line x1="287.00" y1="263.92" x2="288.20" y2="263.92" stroke="#444" stroke-width="0.45"/>
<line x1="287.00" y1="268.49" x2="288.20" y2="268.49" stroke="#444" stroke-width="0.45"/>
<line x1="287.00" y1="273.07" x2="288.20" y2="273.07" stroke="#444" stroke-width="0.45"/>
<line x1="287.00" y1="277.65" x2="288.20" y2="277.65" stroke="#444" stroke-width="0.45"/>
<line x1="287.00" y1="282.22" x2="288.20" y2="282.22" stroke="#444" stroke-width="0.45"/>
<line x1="287.00" y1="286.80" x2="288.20" y2="286.80" stroke="#444" stroke-width="0.45"/>
<line x1="290.20" y1="287.80" x2="290.20" y2="289.00" stroke="#444" stroke-width="0.45"/>
<line x1="293.72" y1="287.80" x2="293.72" y2="289.00" stroke="#444" stroke-width="0.45"/>
<line x1="297.25" y1="287.80" x2="297.25" y2="289.00" stroke="#444" stroke-width="0.45"/>
<line x1="300.77" y1="287.80" x2="300.77" y2="289.00" stroke="#444" stroke-width="0.45"/>
<line x1="304.29" y1="287.80" x2="304.29" y2="289.00" stroke="#444" stroke-width="0.45"/>
<line x1="307.82" y1="287.80" x2="307.82" y2="289.00" stroke="#444" stroke-width="0.45"/>
<line x1="311.34" y1="287.80" x2="311.34" y2="289.00" stroke="#444" stroke-width="0.45"/>
<line x1="314.86" y1="287.80" x2="314.86" y2="289.00" stroke="#444" stroke-width="0.45"/>
<line x1="318.39" y1="287.80" x2="318.39" y2="289.00" stroke="#444" stroke-width="0.45"/>
<line x1="321.91" y1="287.80" x2="321.91" y2="289.00" stroke="#444" stroke-width="0.45"/>
<line x1="325.44" y1="287.80" x2="325.44" y2="289.00" stroke="#444" stroke-width="0.45"/>
<line x1="328.96" y1="287.80" x2="328.96" y2="289.00" stroke="#444" stroke-width="0.45"/>
<line x1="332.48" y1="287.80" x2="332.48" y2="289.00" stroke="#444" stroke-width="0.45"/>
<line x1="336.01" y1="287.80" x2="336.01" y2="289.00" stroke="#444" stroke-width="0.45"/>
<line x1="339.53" y1="287.80" x2="339.53" y2="289.00" stroke="#444" stroke-width="0.45"/>
<line x1="343.05" y1="287.80" x2="343.05" y2="289.00" stroke="#444" stroke-width="0.45"/>
<line x1="346.58" y1="287.80" x2="346.58" y2="289.00" stroke="#444" stroke-width="0.45"/>
<line x1="350.10" y1="287.80" x2="350.10" y2="289.00" stroke="#444" stroke-width="0.45"/>
<line x1="286.20" y1="230.65" x2="288.20" y2="230.65" stroke="#333" stroke-width="0.5"/>
<text x="284.60" y="231.45" font-size="3.2" text-anchor="middle" fill="#222" font-weight="bold" transform="rotate(-90 284.60 231.45)">10⁵</text>
<line x1="286.20" y1="245.57" x2="288.20" y2="245.57" stroke="#333" stroke-width="0.5"/>
<text x="284.60" y="246.37" font-size="3.2" text-anchor="middle" fill="#222" font-weight="bold" transform="rotate(-90 284.60 246.37)">10⁴</text>
<line x1="286.20" y1="262.65" x2="288.20" y2="262.65" stroke="#333" stroke-width="0.5"/>
<text x="284.60" y="263.45" font-size="3.2" text-anchor="middle" fill="#222" font-weight="bold" transform="rotate(-90 284.60 263.45)">10³</text>
<line x1="286.20" y1="273.51" x2="288.20" y2="273.51" stroke="#333" stroke-width="0.5"/>
<text x="284.60" y="274.31" font-size="3.2" text-anchor="middle" fill="#222" font-weight="bold" transform="rotate(-90 284.60 274.31)">0</text>
<line x1="286.20" y1="285.13" x2="288.20" y2="285.13" stroke="#333" stroke-width="0.5"/>
<text x="284.60" y="285.93" font-size="3.2" text-anchor="middle" fill="#222" font-weight="bold" transform="rotate(-90 284.60 285.93)">-10³</text>
<line x1="292.16" y1="287.80" x2="292.16" y2="289.80" stroke="#333" stroke-width="0.5"/>
<text x="292.16" y="295.60" font-size="3.2" text-anchor="middle" fill="#222" font-weight="bold">-10³</text>
<line x1="302.07" y1="287.80" x2="302.07" y2="289.80" stroke="#333" stroke-width="0.5"/>
<text x="302.07" y="295.60" font-size="3.2" text-anchor="middle" fill="#222" font-weight="bold">0</text>
<line x1="313.50" y1="287.80" x2="313.50" y2="289.80" stroke="#333" stroke-width="0.5"/>
<text x="313.50" y="295.60" font-size="3.2" text-anchor="middle" fill="#222" font-weight="bold">10³</text>
<line x1="331.08" y1="287.80" x2="331.08" y2="289.80" stroke="#333" stroke-width="0.5"/>
<text x="331.08" y="295.60" font-size="3.2" text-anchor="middle" fill="#222" font-weight="bold">10⁴</text>
<line x1="346.35" y1="287.80" x2="346.35" y2="289.80" stroke="#333" stroke-width="0.5"/>
<text x="346.35" y="295.60" font-size="3.2" text-anchor="middle" fill="#222" font-weight="bold">10⁵</text>
<text x="318.87" y="300.70" font-size="2.75" text-anchor="middle" fill="#222" font-weight="bold">Comp-PerCP-Cy5-5-A</text>
<text x="279.20" y="256.05" font-size="2.75" text-anchor="middle" fill="#333" font-weight="bold" transform="rotate(-90 279.20 256.05)">Comp-APC-A</text>
<rect x="286.80" y="273.27" width="1.60" height="2.40" fill="#111" stroke="none" stroke-width="0"/>
<rect x="302.26" y="287.00" width="3.20" height="1.60" fill="#111" stroke="none" stroke-width="0"/>
<text x="320.15" y="213.30" font-size="6.2" text-anchor="middle" fill="#111" stroke="#111" stroke-width="0.22">+C3a</text>
<text x="320.15" y="220.50" font-size="6.2" text-anchor="middle" fill="#111" stroke="#111" stroke-width="0.22">+C3aR mab</text>
<ellipse cx="317.00" cy="254.60" rx="5.00" ry="6.50" fill="#ececec" stroke="#b4b4b4" stroke-width="0.5"/>
<ellipse cx="317.00" cy="254.90" rx="3.80" ry="4.94" fill="none" stroke="#b4b4b4" stroke-width="0.45"/>
<ellipse cx="317.00" cy="255.20" rx="2.60" ry="3.38" fill="none" stroke="#b4b4b4" stroke-width="0.45"/>
<ellipse cx="317.00" cy="255.50" rx="1.40" ry="1.82" fill="none" stroke="#b4b4b4" stroke-width="0.45"/>
<path d="M326.80,271.60 L326.74,273.19 L326.54,274.29 L326.23,275.23 L325.78,276.06 L325.22,276.79 L324.53,277.42 L323.72,277.96 L322.79,278.40 L321.73,278.75 L320.53,279.00 L319.13,279.15 L317.10,279.20 L315.07,279.15 L313.67,279.00 L312.47,278.75 L311.41,278.40 L310.48,277.96 L309.67,277.42 L308.98,276.79 L308.42,276.06 L307.97,275.23 L307.66,274.29 L307.46,273.19 L307.40,271.60 L307.46,270.01 L307.66,268.91 L307.97,267.97 L308.42,267.14 L308.98,266.41 L309.67,265.78 L310.48,265.24 L311.41,264.80 L312.47,264.45 L313.67,264.20 L315.07,264.05 L317.10,264.00 L319.13,264.05 L320.53,264.20 L321.73,264.45 L322.79,264.80 L323.72,265.24 L324.53,265.78 L325.22,266.41 L325.78,267.14 L326.23,267.97 L326.54,268.91 L326.74,270.01Z" fill="#cfcfcf" stroke="#666" stroke-width="0.55"/>
<path d="M325.87,271.70 L325.82,273.08 L325.65,274.03 L325.38,274.85 L324.99,275.57 L324.50,276.21 L323.90,276.76 L323.20,277.22 L322.39,277.61 L321.47,277.91 L320.43,278.13 L319.21,278.26 L317.45,278.30 L315.69,278.26 L314.47,278.13 L313.43,277.91 L312.51,277.61 L311.70,277.22 L311.00,276.76 L310.40,276.21 L309.91,275.57 L309.52,274.85 L309.25,274.03 L309.08,273.08 L309.03,271.70 L309.08,270.32 L309.25,269.37 L309.52,268.55 L309.91,267.83 L310.40,267.19 L311.00,266.64 L311.70,266.18 L312.51,265.79 L313.43,265.49 L314.47,265.27 L315.69,265.14 L317.45,265.10 L319.21,265.14 L320.43,265.27 L321.47,265.49 L322.39,265.79 L323.20,266.18 L323.90,266.64 L324.50,267.19 L324.99,267.83 L325.38,268.55 L325.65,269.37 L325.82,270.32Z" fill="none" stroke="#5c5c5c" stroke-width="0.5"/>
<path d="M324.95,271.80 L324.90,272.97 L324.76,273.78 L324.53,274.47 L324.20,275.09 L323.78,275.62 L323.27,276.09 L322.68,276.49 L321.99,276.81 L321.21,277.07 L320.33,277.25 L319.29,277.36 L317.80,277.40 L316.31,277.36 L315.27,277.25 L314.39,277.07 L313.61,276.81 L312.92,276.49 L312.33,276.09 L311.82,275.62 L311.40,275.09 L311.07,274.47 L310.84,273.78 L310.70,272.97 L310.65,271.80 L310.70,270.63 L310.84,269.82 L311.07,269.13 L311.40,268.51 L311.82,267.98 L312.33,267.51 L312.92,267.11 L313.61,266.79 L314.39,266.53 L315.27,266.35 L316.31,266.24 L317.80,266.20 L319.29,266.24 L320.33,266.35 L321.21,266.53 L321.99,266.79 L322.68,267.11 L323.27,267.51 L323.78,267.98 L324.20,268.51 L324.53,269.13 L324.76,269.82 L324.90,270.63Z" fill="none" stroke="#9a9a9a" stroke-width="0.5"/>
<path d="M324.02,271.90 L323.98,272.86 L323.87,273.53 L323.67,274.10 L323.41,274.60 L323.06,275.04 L322.65,275.42 L322.16,275.75 L321.59,276.02 L320.95,276.23 L320.23,276.38 L319.38,276.47 L318.15,276.50 L316.92,276.47 L316.07,276.38 L315.35,276.23 L314.71,276.02 L314.14,275.75 L313.65,275.42 L313.24,275.04 L312.89,274.60 L312.63,274.10 L312.43,273.53 L312.32,272.86 L312.28,271.90 L312.32,270.94 L312.43,270.27 L312.63,269.70 L312.89,269.20 L313.24,268.76 L313.65,268.38 L314.14,268.05 L314.71,267.78 L315.35,267.57 L316.07,267.42 L316.92,267.33 L318.15,267.30 L319.38,267.33 L320.23,267.42 L320.95,267.57 L321.59,267.78 L322.16,268.05 L322.65,268.38 L323.06,268.76 L323.41,269.20 L323.67,269.70 L323.87,270.27 L323.98,270.94Z" fill="none" stroke="#5c5c5c" stroke-width="0.5"/>
<path d="M323.09,272.00 L323.06,272.75 L322.97,273.27 L322.82,273.72 L322.61,274.11 L322.35,274.46 L322.02,274.76 L321.64,275.01 L321.20,275.22 L320.69,275.39 L320.12,275.51 L319.46,275.58 L318.50,275.60 L317.54,275.58 L316.88,275.51 L316.31,275.39 L315.80,275.22 L315.36,275.01 L314.98,274.76 L314.65,274.46 L314.39,274.11 L314.18,273.72 L314.03,273.27 L313.94,272.75 L313.91,272.00 L313.94,271.25 L314.03,270.73 L314.18,270.28 L314.39,269.89 L314.65,269.54 L314.98,269.24 L315.36,268.99 L315.80,268.78 L316.31,268.61 L316.88,268.49 L317.54,268.42 L318.50,268.40 L319.46,268.42 L320.12,268.49 L320.69,268.61 L321.20,268.78 L321.64,268.99 L322.02,269.24 L322.35,269.54 L322.61,269.89 L322.82,270.28 L322.97,270.73 L323.06,271.25Z" fill="none" stroke="#9a9a9a" stroke-width="0.5"/>
<path d="M322.17,272.10 L322.15,272.64 L322.08,273.02 L321.97,273.34 L321.82,273.63 L321.63,273.87 L321.39,274.09 L321.12,274.28 L320.80,274.43 L320.44,274.55 L320.02,274.63 L319.54,274.68 L318.85,274.70 L318.16,274.68 L317.68,274.63 L317.26,274.55 L316.90,274.43 L316.58,274.28 L316.31,274.09 L316.07,273.87 L315.88,273.63 L315.73,273.34 L315.62,273.02 L315.55,272.64 L315.53,272.10 L315.55,271.56 L315.62,271.18 L315.73,270.86 L315.88,270.57 L316.07,270.33 L316.31,270.11 L316.58,269.92 L316.90,269.77 L317.26,269.65 L317.68,269.57 L318.16,269.52 L318.85,269.50 L319.54,269.52 L320.02,269.57 L320.44,269.65 L320.80,269.77 L321.12,269.92 L321.39,270.11 L321.63,270.33 L321.82,270.57 L321.97,270.86 L322.08,271.18 L322.15,271.56Z" fill="none" stroke="#5c5c5c" stroke-width="0.5"/>
<path d="M321.24,272.20 L321.23,272.53 L321.19,272.77 L321.12,272.96 L321.03,273.14 L320.91,273.29 L320.76,273.43 L320.59,273.54 L320.40,273.63 L320.18,273.71 L319.92,273.76 L319.63,273.79 L319.20,273.80 L318.77,273.79 L318.48,273.76 L318.22,273.71 L318.00,273.63 L317.81,273.54 L317.64,273.43 L317.49,273.29 L317.37,273.14 L317.28,272.96 L317.21,272.77 L317.17,272.53 L317.16,272.20 L317.17,271.87 L317.21,271.63 L317.28,271.44 L317.37,271.26 L317.49,271.11 L317.64,270.97 L317.81,270.86 L318.00,270.77 L318.22,270.69 L318.48,270.64 L318.77,270.61 L319.20,270.60 L319.63,270.61 L319.92,270.64 L320.18,270.69 L320.40,270.77 L320.59,270.86 L320.76,270.97 L320.91,271.11 L321.03,271.26 L321.12,271.44 L321.19,271.63 L321.23,271.87Z" fill="none" stroke="#9a9a9a" stroke-width="0.5"/>
<ellipse cx="319.60" cy="272.10" rx="3.10" ry="1.52" fill="#f4f4f4" stroke="none"/>
<rect x="307.70" y="237.30" width="27.10" height="26.00" fill="none" stroke="#505050" stroke-width="0.65"/>
<text x="321.00" y="234.45" font-size="6.0" text-anchor="middle" fill="#cc4848">18.0</text>
<line x1="37.90" y1="290.20" x2="37.90" y2="231.50" stroke="#666" stroke-width="0.8"/>
<polygon points="37.9,228.3 36.3,232.6 39.5,232.6" fill="#111"/>
<text x="33.00" y="258.20" font-size="5.6" text-anchor="middle" fill="#111" stroke="#111" stroke-width="0.2" transform="rotate(-90 33.00 258.20)">p-AKT</text>
<line x1="120.40" y1="310.30" x2="279.00" y2="310.30" stroke="#333" stroke-width="0.8"/>
<polygon points="282.5,310.3 278.3,308.7 278.3,311.9" fill="#111"/>
<text x="212.60" y="322.20" font-size="5.9" text-anchor="middle" fill="#111" stroke="#111" stroke-width="0.3">F4/80</text>
<rect x="71.50" y="390.30" width="64.00" height="63.90" fill="none" stroke="#9a9a9a" stroke-width="0.55"/>
<line x1="70.30" y1="393.30" x2="71.50" y2="393.30" stroke="#444" stroke-width="0.45"/>
<line x1="70.30" y1="397.91" x2="71.50" y2="397.91" stroke="#444" stroke-width="0.45"/>
<line x1="70.30" y1="402.52" x2="71.50" y2="402.52" stroke="#444" stroke-width="0.45"/>
<line x1="70.30" y1="407.12" x2="71.50" y2="407.12" stroke="#444" stroke-width="0.45"/>
<line x1="70.30" y1="411.73" x2="71.50" y2="411.73" stroke="#444" stroke-width="0.45"/>
<line x1="70.30" y1="416.34" x2="71.50" y2="416.34" stroke="#444" stroke-width="0.45"/>
<line x1="70.30" y1="420.95" x2="71.50" y2="420.95" stroke="#444" stroke-width="0.45"/>
<line x1="70.30" y1="425.55" x2="71.50" y2="425.55" stroke="#444" stroke-width="0.45"/>
<line x1="70.30" y1="430.16" x2="71.50" y2="430.16" stroke="#444" stroke-width="0.45"/>
<line x1="70.30" y1="434.77" x2="71.50" y2="434.77" stroke="#444" stroke-width="0.45"/>
<line x1="70.30" y1="439.38" x2="71.50" y2="439.38" stroke="#444" stroke-width="0.45"/>
<line x1="70.30" y1="443.98" x2="71.50" y2="443.98" stroke="#444" stroke-width="0.45"/>
<line x1="70.30" y1="448.59" x2="71.50" y2="448.59" stroke="#444" stroke-width="0.45"/>
<line x1="70.30" y1="453.20" x2="71.50" y2="453.20" stroke="#444" stroke-width="0.45"/>
<line x1="73.50" y1="454.20" x2="73.50" y2="455.40" stroke="#444" stroke-width="0.45"/>
<line x1="77.03" y1="454.20" x2="77.03" y2="455.40" stroke="#444" stroke-width="0.45"/>
<line x1="80.56" y1="454.20" x2="80.56" y2="455.40" stroke="#444" stroke-width="0.45"/>
<line x1="84.09" y1="454.20" x2="84.09" y2="455.40" stroke="#444" stroke-width="0.45"/>
<line x1="87.62" y1="454.20" x2="87.62" y2="455.40" stroke="#444" stroke-width="0.45"/>
<line x1="91.15" y1="454.20" x2="91.15" y2="455.40" stroke="#444" stroke-width="0.45"/>
<line x1="94.68" y1="454.20" x2="94.68" y2="455.40" stroke="#444" stroke-width="0.45"/>
<line x1="98.21" y1="454.20" x2="98.21" y2="455.40" stroke="#444" stroke-width="0.45"/>
<line x1="101.74" y1="454.20" x2="101.74" y2="455.40" stroke="#444" stroke-width="0.45"/>
<line x1="105.26" y1="454.20" x2="105.26" y2="455.40" stroke="#444" stroke-width="0.45"/>
<line x1="108.79" y1="454.20" x2="108.79" y2="455.40" stroke="#444" stroke-width="0.45"/>
<line x1="112.32" y1="454.20" x2="112.32" y2="455.40" stroke="#444" stroke-width="0.45"/>
<line x1="115.85" y1="454.20" x2="115.85" y2="455.40" stroke="#444" stroke-width="0.45"/>
<line x1="119.38" y1="454.20" x2="119.38" y2="455.40" stroke="#444" stroke-width="0.45"/>
<line x1="122.91" y1="454.20" x2="122.91" y2="455.40" stroke="#444" stroke-width="0.45"/>
<line x1="126.44" y1="454.20" x2="126.44" y2="455.40" stroke="#444" stroke-width="0.45"/>
<line x1="129.97" y1="454.20" x2="129.97" y2="455.40" stroke="#444" stroke-width="0.45"/>
<line x1="133.50" y1="454.20" x2="133.50" y2="455.40" stroke="#444" stroke-width="0.45"/>
<line x1="69.50" y1="396.69" x2="71.50" y2="396.69" stroke="#333" stroke-width="0.5"/>
<text x="67.90" y="397.49" font-size="3.2" text-anchor="middle" fill="#222" font-weight="bold" transform="rotate(-90 67.90 397.49)">10⁵</text>
<line x1="69.50" y1="411.71" x2="71.50" y2="411.71" stroke="#333" stroke-width="0.5"/>
<text x="67.90" y="412.51" font-size="3.2" text-anchor="middle" fill="#222" font-weight="bold" transform="rotate(-90 67.90 412.51)">10⁴</text>
<line x1="69.50" y1="428.90" x2="71.50" y2="428.90" stroke="#333" stroke-width="0.5"/>
<text x="67.90" y="429.70" font-size="3.2" text-anchor="middle" fill="#222" font-weight="bold" transform="rotate(-90 67.90 429.70)">10³</text>
<line x1="69.50" y1="439.82" x2="71.50" y2="439.82" stroke="#333" stroke-width="0.5"/>
<text x="67.90" y="440.62" font-size="3.2" text-anchor="middle" fill="#222" font-weight="bold" transform="rotate(-90 67.90 440.62)">0</text>
<line x1="69.50" y1="451.52" x2="71.50" y2="451.52" stroke="#333" stroke-width="0.5"/>
<text x="67.90" y="452.32" font-size="3.2" text-anchor="middle" fill="#222" font-weight="bold" transform="rotate(-90 67.90 452.32)">-10³</text>
<line x1="75.47" y1="454.20" x2="75.47" y2="456.20" stroke="#333" stroke-width="0.5"/>
<text x="75.47" y="462.00" font-size="3.2" text-anchor="middle" fill="#222" font-weight="bold">-10³</text>
<line x1="85.39" y1="454.20" x2="85.39" y2="456.20" stroke="#333" stroke-width="0.5"/>
<text x="85.39" y="462.00" font-size="3.2" text-anchor="middle" fill="#222" font-weight="bold">0</text>
<line x1="96.84" y1="454.20" x2="96.84" y2="456.20" stroke="#333" stroke-width="0.5"/>
<text x="96.84" y="462.00" font-size="3.2" text-anchor="middle" fill="#222" font-weight="bold">10³</text>
<line x1="114.44" y1="454.20" x2="114.44" y2="456.20" stroke="#333" stroke-width="0.5"/>
<text x="114.44" y="462.00" font-size="3.2" text-anchor="middle" fill="#222" font-weight="bold">10⁴</text>
<line x1="129.74" y1="454.20" x2="129.74" y2="456.20" stroke="#333" stroke-width="0.5"/>
<text x="129.74" y="462.00" font-size="3.2" text-anchor="middle" fill="#222" font-weight="bold">10⁵</text>
<text x="102.22" y="467.10" font-size="2.75" text-anchor="middle" fill="#222" font-weight="bold">Comp-PerCP-Cy5-5-A</text>
<text x="62.50" y="422.25" font-size="2.75" text-anchor="middle" fill="#333" font-weight="bold" transform="rotate(-90 62.50 422.25)">Comp-APC-A</text>
<rect x="70.10" y="439.58" width="1.60" height="2.40" fill="#111" stroke="none" stroke-width="0"/>
<rect x="85.58" y="453.40" width="3.20" height="1.60" fill="#111" stroke="none" stroke-width="0"/>
<text x="103.50" y="386.50" font-size="6.2" text-anchor="middle" fill="#111" stroke="#111" stroke-width="0.22">Control</text>
<ellipse cx="101.80" cy="422.50" rx="4.00" ry="6.00" fill="#ececec" stroke="#b4b4b4" stroke-width="0.5"/>
<ellipse cx="101.80" cy="422.80" rx="3.04" ry="4.56" fill="none" stroke="#b4b4b4" stroke-width="0.45"/>
<ellipse cx="101.80" cy="423.10" rx="2.08" ry="3.12" fill="none" stroke="#b4b4b4" stroke-width="0.45"/>
<ellipse cx="101.80" cy="423.40" rx="1.12" ry="1.68" fill="none" stroke="#b4b4b4" stroke-width="0.45"/>
<path d="M109.00,438.00 L108.94,439.44 L108.76,440.44 L108.47,441.30 L108.06,442.05 L107.53,442.71 L106.89,443.29 L106.14,443.77 L105.28,444.18 L104.30,444.49 L103.18,444.72 L101.88,444.85 L100.00,444.90 L98.12,444.85 L96.82,444.72 L95.70,444.49 L94.72,444.18 L93.86,443.77 L93.11,443.29 L92.47,442.71 L91.94,442.05 L91.53,441.30 L91.24,440.44 L91.06,439.44 L91.00,438.00 L91.06,436.56 L91.24,435.56 L91.53,434.70 L91.94,433.95 L92.47,433.29 L93.11,432.71 L93.86,432.23 L94.72,431.82 L95.70,431.51 L96.82,431.28 L98.12,431.15 L100.00,431.10 L101.88,431.15 L103.18,431.28 L104.30,431.51 L105.28,431.82 L106.14,432.23 L106.89,432.71 L107.53,433.29 L108.06,433.95 L108.47,434.70 L108.76,435.56 L108.94,436.56Z" fill="#cfcfcf" stroke="#666" stroke-width="0.55"/>
<path d="M108.17,438.10 L108.11,439.35 L107.96,440.22 L107.70,440.96 L107.35,441.62 L106.89,442.19 L106.34,442.69 L105.69,443.11 L104.94,443.46 L104.08,443.74 L103.11,443.93 L101.98,444.05 L100.35,444.09 L98.72,444.05 L97.59,443.93 L96.62,443.74 L95.76,443.46 L95.01,443.11 L94.36,442.69 L93.81,442.19 L93.35,441.62 L93.00,440.96 L92.74,440.22 L92.59,439.35 L92.53,438.10 L92.59,436.85 L92.74,435.98 L93.00,435.24 L93.35,434.58 L93.81,434.01 L94.36,433.51 L95.01,433.09 L95.76,432.74 L96.62,432.46 L97.59,432.27 L98.72,432.15 L100.35,432.11 L101.98,432.15 L103.11,432.27 L104.08,432.46 L104.94,432.74 L105.69,433.09 L106.34,433.51 L106.89,434.01 L107.35,434.58 L107.70,435.24 L107.96,435.98 L108.11,436.85Z" fill="none" stroke="#5c5c5c" stroke-width="0.5"/>
<path d="M107.33,438.20 L107.29,439.26 L107.16,440.00 L106.94,440.63 L106.64,441.18 L106.25,441.67 L105.78,442.09 L105.23,442.45 L104.59,442.75 L103.87,442.98 L103.04,443.15 L102.08,443.25 L100.70,443.28 L99.32,443.25 L98.36,443.15 L97.53,442.98 L96.81,442.75 L96.17,442.45 L95.62,442.09 L95.15,441.67 L94.76,441.18 L94.46,440.63 L94.24,440.00 L94.11,439.26 L94.07,438.20 L94.11,437.14 L94.24,436.40 L94.46,435.77 L94.76,435.22 L95.15,434.73 L95.62,434.31 L96.17,433.95 L96.81,433.65 L97.53,433.42 L98.36,433.25 L99.32,433.15 L100.70,433.12 L102.08,433.15 L103.04,433.25 L103.87,433.42 L104.59,433.65 L105.23,433.95 L105.78,434.31 L106.25,434.73 L106.64,435.22 L106.94,435.77 L107.16,436.40 L107.29,437.14Z" fill="none" stroke="#9a9a9a" stroke-width="0.5"/>
<path d="M106.50,438.30 L106.46,439.17 L106.35,439.78 L106.18,440.29 L105.93,440.75 L105.61,441.15 L105.22,441.50 L104.77,441.80 L104.25,442.04 L103.65,442.23 L102.98,442.37 L102.19,442.45 L101.05,442.48 L99.91,442.45 L99.12,442.37 L98.45,442.23 L97.85,442.04 L97.33,441.80 L96.88,441.50 L96.49,441.15 L96.17,440.75 L95.92,440.29 L95.75,439.78 L95.64,439.17 L95.60,438.30 L95.64,437.43 L95.75,436.82 L95.92,436.31 L96.17,435.85 L96.49,435.45 L96.88,435.10 L97.33,434.80 L97.85,434.56 L98.45,434.37 L99.12,434.23 L99.91,434.15 L101.05,434.12 L102.19,434.15 L102.98,434.23 L103.65,434.37 L104.25,434.56 L104.77,434.80 L105.22,435.10 L105.61,435.45 L105.93,435.85 L106.18,436.31 L106.35,436.82 L106.46,437.43Z" fill="none" stroke="#5c5c5c" stroke-width="0.5"/>
<path d="M105.66,438.40 L105.64,439.08 L105.55,439.56 L105.41,439.96 L105.22,440.32 L104.97,440.63 L104.67,440.90 L104.31,441.14 L103.90,441.33 L103.44,441.48 L102.91,441.58 L102.29,441.65 L101.40,441.67 L100.51,441.65 L99.89,441.58 L99.36,441.48 L98.90,441.33 L98.49,441.14 L98.13,440.90 L97.83,440.63 L97.58,440.32 L97.39,439.96 L97.25,439.56 L97.16,439.08 L97.14,438.40 L97.16,437.72 L97.25,437.24 L97.39,436.84 L97.58,436.48 L97.83,436.17 L98.13,435.90 L98.49,435.66 L98.90,435.47 L99.36,435.32 L99.89,435.22 L100.51,435.15 L101.40,435.13 L102.29,435.15 L102.91,435.22 L103.44,435.32 L103.90,435.47 L104.31,435.66 L104.67,435.90 L104.97,436.17 L105.22,436.48 L105.41,436.84 L105.55,437.24 L105.64,437.72Z" fill="none" stroke="#9a9a9a" stroke-width="0.5"/>
<path d="M104.83,438.50 L104.81,438.99 L104.75,439.33 L104.65,439.63 L104.51,439.88 L104.33,440.11 L104.11,440.31 L103.85,440.48 L103.56,440.61 L103.22,440.72 L102.84,440.80 L102.39,440.84 L101.75,440.86 L101.11,440.84 L100.66,440.80 L100.28,440.72 L99.94,440.61 L99.65,440.48 L99.39,440.31 L99.17,440.11 L98.99,439.88 L98.85,439.63 L98.75,439.33 L98.69,438.99 L98.67,438.50 L98.69,438.01 L98.75,437.67 L98.85,437.37 L98.99,437.12 L99.17,436.89 L99.39,436.69 L99.65,436.52 L99.94,436.39 L100.28,436.28 L100.66,436.20 L101.11,436.16 L101.75,436.14 L102.39,436.16 L102.84,436.20 L103.22,436.28 L103.56,436.39 L103.85,436.52 L104.11,436.69 L104.33,436.89 L104.51,437.12 L104.65,437.37 L104.75,437.67 L104.81,438.01Z" fill="none" stroke="#5c5c5c" stroke-width="0.5"/>
<path d="M103.99,438.60 L103.98,438.90 L103.94,439.11 L103.88,439.29 L103.80,439.45 L103.69,439.59 L103.55,439.71 L103.39,439.82 L103.21,439.90 L103.01,439.97 L102.77,440.01 L102.50,440.04 L102.10,440.05 L101.70,440.04 L101.43,440.01 L101.19,439.97 L100.99,439.90 L100.81,439.82 L100.65,439.71 L100.51,439.59 L100.40,439.45 L100.32,439.29 L100.26,439.11 L100.22,438.90 L100.21,438.60 L100.22,438.30 L100.26,438.09 L100.32,437.91 L100.40,437.75 L100.51,437.61 L100.65,437.49 L100.81,437.38 L100.99,437.30 L101.19,437.23 L101.43,437.19 L101.70,437.16 L102.10,437.15 L102.50,437.16 L102.77,437.19 L103.01,437.23 L103.21,437.30 L103.39,437.38 L103.55,437.49 L103.69,437.61 L103.80,437.75 L103.88,437.91 L103.94,438.09 L103.98,438.30Z" fill="none" stroke="#9a9a9a" stroke-width="0.5"/>
<ellipse cx="102.50" cy="438.50" rx="2.88" ry="1.38" fill="#f4f4f4" stroke="none"/>
<rect x="91.70" y="403.50" width="25.70" height="25.50" fill="none" stroke="#505050" stroke-width="0.65"/>
<text x="103.70" y="400.15" font-size="6.0" text-anchor="middle" fill="#cc4848">15.2</text>
<rect x="150.50" y="390.50" width="64.50" height="63.50" fill="none" stroke="#9a9a9a" stroke-width="0.55"/>
<line x1="149.30" y1="393.50" x2="150.50" y2="393.50" stroke="#444" stroke-width="0.45"/>
<line x1="149.30" y1="398.08" x2="150.50" y2="398.08" stroke="#444" stroke-width="0.45"/>
<line x1="149.30" y1="402.65" x2="150.50" y2="402.65" stroke="#444" stroke-width="0.45"/>
<line x1="149.30" y1="407.23" x2="150.50" y2="407.23" stroke="#444" stroke-width="0.45"/>
<line x1="149.30" y1="411.81" x2="150.50" y2="411.81" stroke="#444" stroke-width="0.45"/>
<line x1="149.30" y1="416.38" x2="150.50" y2="416.38" stroke="#444" stroke-width="0.45"/>
<line x1="149.30" y1="420.96" x2="150.50" y2="420.96" stroke="#444" stroke-width="0.45"/>
<line x1="149.30" y1="425.54" x2="150.50" y2="425.54" stroke="#444" stroke-width="0.45"/>
<line x1="149.30" y1="430.12" x2="150.50" y2="430.12" stroke="#444" stroke-width="0.45"/>
<line x1="149.30" y1="434.69" x2="150.50" y2="434.69" stroke="#444" stroke-width="0.45"/>
<line x1="149.30" y1="439.27" x2="150.50" y2="439.27" stroke="#444" stroke-width="0.45"/>
<line x1="149.30" y1="443.85" x2="150.50" y2="443.85" stroke="#444" stroke-width="0.45"/>
<line x1="149.30" y1="448.42" x2="150.50" y2="448.42" stroke="#444" stroke-width="0.45"/>
<line x1="149.30" y1="453.00" x2="150.50" y2="453.00" stroke="#444" stroke-width="0.45"/>
<line x1="152.50" y1="454.00" x2="152.50" y2="455.20" stroke="#444" stroke-width="0.45"/>
<line x1="156.06" y1="454.00" x2="156.06" y2="455.20" stroke="#444" stroke-width="0.45"/>
<line x1="159.62" y1="454.00" x2="159.62" y2="455.20" stroke="#444" stroke-width="0.45"/>
<line x1="163.18" y1="454.00" x2="163.18" y2="455.20" stroke="#444" stroke-width="0.45"/>
<line x1="166.74" y1="454.00" x2="166.74" y2="455.20" stroke="#444" stroke-width="0.45"/>
<line x1="170.29" y1="454.00" x2="170.29" y2="455.20" stroke="#444" stroke-width="0.45"/>
<line x1="173.85" y1="454.00" x2="173.85" y2="455.20" stroke="#444" stroke-width="0.45"/>
<line x1="177.41" y1="454.00" x2="177.41" y2="455.20" stroke="#444" stroke-width="0.45"/>
<line x1="180.97" y1="454.00" x2="180.97" y2="455.20" stroke="#444" stroke-width="0.45"/>
<line x1="184.53" y1="454.00" x2="184.53" y2="455.20" stroke="#444" stroke-width="0.45"/>
<line x1="188.09" y1="454.00" x2="188.09" y2="455.20" stroke="#444" stroke-width="0.45"/>
<line x1="191.65" y1="454.00" x2="191.65" y2="455.20" stroke="#444" stroke-width="0.45"/>
<line x1="195.21" y1="454.00" x2="195.21" y2="455.20" stroke="#444" stroke-width="0.45"/>
<line x1="198.76" y1="454.00" x2="198.76" y2="455.20" stroke="#444" stroke-width="0.45"/>
<line x1="202.32" y1="454.00" x2="202.32" y2="455.20" stroke="#444" stroke-width="0.45"/>
<line x1="205.88" y1="454.00" x2="205.88" y2="455.20" stroke="#444" stroke-width="0.45"/>
<line x1="209.44" y1="454.00" x2="209.44" y2="455.20" stroke="#444" stroke-width="0.45"/>
<line x1="213.00" y1="454.00" x2="213.00" y2="455.20" stroke="#444" stroke-width="0.45"/>
<line x1="148.50" y1="396.85" x2="150.50" y2="396.85" stroke="#333" stroke-width="0.5"/>
<text x="146.90" y="397.65" font-size="3.2" text-anchor="middle" fill="#222" font-weight="bold" transform="rotate(-90 146.90 397.65)">10⁵</text>
<line x1="148.50" y1="411.77" x2="150.50" y2="411.77" stroke="#333" stroke-width="0.5"/>
<text x="146.90" y="412.57" font-size="3.2" text-anchor="middle" fill="#222" font-weight="bold" transform="rotate(-90 146.90 412.57)">10⁴</text>
<line x1="148.50" y1="428.85" x2="150.50" y2="428.85" stroke="#333" stroke-width="0.5"/>
<text x="146.90" y="429.65" font-size="3.2" text-anchor="middle" fill="#222" font-weight="bold" transform="rotate(-90 146.90 429.65)">10³</text>
<line x1="148.50" y1="439.71" x2="150.50" y2="439.71" stroke="#333" stroke-width="0.5"/>
<text x="146.90" y="440.51" font-size="3.2" text-anchor="middle" fill="#222" font-weight="bold" transform="rotate(-90 146.90 440.51)">0</text>
<line x1="148.50" y1="451.33" x2="150.50" y2="451.33" stroke="#333" stroke-width="0.5"/>
<text x="146.90" y="452.13" font-size="3.2" text-anchor="middle" fill="#222" font-weight="bold" transform="rotate(-90 146.90 452.13)">-10³</text>
<line x1="154.50" y1="454.00" x2="154.50" y2="456.00" stroke="#333" stroke-width="0.5"/>
<text x="154.50" y="461.80" font-size="3.2" text-anchor="middle" fill="#222" font-weight="bold">-10³</text>
<line x1="164.50" y1="454.00" x2="164.50" y2="456.00" stroke="#333" stroke-width="0.5"/>
<text x="164.50" y="461.80" font-size="3.2" text-anchor="middle" fill="#222" font-weight="bold">0</text>
<line x1="176.04" y1="454.00" x2="176.04" y2="456.00" stroke="#333" stroke-width="0.5"/>
<text x="176.04" y="461.80" font-size="3.2" text-anchor="middle" fill="#222" font-weight="bold">10³</text>
<line x1="193.78" y1="454.00" x2="193.78" y2="456.00" stroke="#333" stroke-width="0.5"/>
<text x="193.78" y="461.80" font-size="3.2" text-anchor="middle" fill="#222" font-weight="bold">10⁴</text>
<line x1="209.19" y1="454.00" x2="209.19" y2="456.00" stroke="#333" stroke-width="0.5"/>
<text x="209.19" y="461.80" font-size="3.2" text-anchor="middle" fill="#222" font-weight="bold">10⁵</text>
<text x="181.46" y="466.90" font-size="2.75" text-anchor="middle" fill="#222" font-weight="bold">Comp-PerCP-Cy5-5-A</text>
<text x="141.50" y="422.25" font-size="2.75" text-anchor="middle" fill="#333" font-weight="bold" transform="rotate(-90 141.50 422.25)">Comp-APC-A</text>
<rect x="149.10" y="439.47" width="1.60" height="2.40" fill="#111" stroke="none" stroke-width="0"/>
<rect x="164.69" y="453.20" width="3.20" height="1.60" fill="#111" stroke="none" stroke-width="0"/>
<text x="182.75" y="386.70" font-size="6.2" text-anchor="middle" fill="#111" stroke="#111" stroke-width="0.22">C3a</text>
<ellipse cx="180.40" cy="417.50" rx="5.50" ry="8.70" fill="#d2d2d2" stroke="#999" stroke-width="0.5"/>
<ellipse cx="180.40" cy="417.80" rx="4.18" ry="6.61" fill="none" stroke="#999" stroke-width="0.45"/>
<ellipse cx="180.40" cy="418.10" rx="2.86" ry="4.52" fill="none" stroke="#999" stroke-width="0.45"/>
<ellipse cx="180.40" cy="418.40" rx="1.54" ry="2.44" fill="none" stroke="#999" stroke-width="0.45"/>
<path d="M188.30,438.00 L188.24,439.29 L188.06,440.19 L187.77,440.96 L187.36,441.64 L186.83,442.23 L186.19,442.75 L185.44,443.19 L184.58,443.55 L183.60,443.83 L182.48,444.04 L181.18,444.16 L179.30,444.20 L177.42,444.16 L176.12,444.04 L175.00,443.83 L174.02,443.55 L173.16,443.19 L172.41,442.75 L171.77,442.23 L171.24,441.64 L170.83,440.96 L170.54,440.19 L170.36,439.29 L170.30,438.00 L170.36,436.71 L170.54,435.81 L170.83,435.04 L171.24,434.36 L171.77,433.77 L172.41,433.25 L173.16,432.81 L174.02,432.45 L175.00,432.17 L176.12,431.96 L177.42,431.84 L179.30,431.80 L181.18,431.84 L182.48,431.96 L183.60,432.17 L184.58,432.45 L185.44,432.81 L186.19,433.25 L186.83,433.77 L187.36,434.36 L187.77,435.04 L188.06,435.81 L188.24,436.71Z" fill="#cfcfcf" stroke="#666" stroke-width="0.55"/>
<path d="M187.47,438.10 L187.41,439.22 L187.26,440.00 L187.00,440.67 L186.65,441.26 L186.19,441.78 L185.64,442.22 L184.99,442.61 L184.24,442.92 L183.38,443.17 L182.41,443.34 L181.28,443.45 L179.65,443.48 L178.02,443.45 L176.89,443.34 L175.92,443.17 L175.06,442.92 L174.31,442.61 L173.66,442.22 L173.11,441.78 L172.65,441.26 L172.30,440.67 L172.04,440.00 L171.89,439.22 L171.83,438.10 L171.89,436.98 L172.04,436.20 L172.30,435.53 L172.65,434.94 L173.11,434.42 L173.66,433.98 L174.31,433.59 L175.06,433.28 L175.92,433.03 L176.89,432.86 L178.02,432.75 L179.65,432.72 L181.28,432.75 L182.41,432.86 L183.38,433.03 L184.24,433.28 L184.99,433.59 L185.64,433.98 L186.19,434.42 L186.65,434.94 L187.00,435.53 L187.26,436.20 L187.41,436.98Z" fill="none" stroke="#5c5c5c" stroke-width="0.5"/>
<path d="M186.63,438.20 L186.59,439.15 L186.46,439.82 L186.24,440.38 L185.94,440.88 L185.55,441.32 L185.08,441.70 L184.53,442.02 L183.89,442.29 L183.17,442.50 L182.34,442.65 L181.38,442.74 L180.00,442.77 L178.62,442.74 L177.66,442.65 L176.83,442.50 L176.11,442.29 L175.47,442.02 L174.92,441.70 L174.45,441.32 L174.06,440.88 L173.76,440.38 L173.54,439.82 L173.41,439.15 L173.37,438.20 L173.41,437.25 L173.54,436.58 L173.76,436.02 L174.06,435.52 L174.45,435.08 L174.92,434.70 L175.47,434.38 L176.11,434.11 L176.83,433.90 L177.66,433.75 L178.62,433.66 L180.00,433.63 L181.38,433.66 L182.34,433.75 L183.17,433.90 L183.89,434.11 L184.53,434.38 L185.08,434.70 L185.55,435.08 L185.94,435.52 L186.24,436.02 L186.46,436.58 L186.59,437.25Z" fill="none" stroke="#9a9a9a" stroke-width="0.5"/>
<path d="M185.80,438.30 L185.76,439.08 L185.65,439.63 L185.48,440.09 L185.23,440.50 L184.91,440.86 L184.52,441.17 L184.07,441.44 L183.55,441.66 L182.95,441.83 L182.28,441.95 L181.49,442.03 L180.35,442.05 L179.21,442.03 L178.42,441.95 L177.75,441.83 L177.15,441.66 L176.63,441.44 L176.18,441.17 L175.79,440.86 L175.47,440.50 L175.22,440.09 L175.05,439.63 L174.94,439.08 L174.90,438.30 L174.94,437.52 L175.05,436.97 L175.22,436.51 L175.47,436.10 L175.79,435.74 L176.18,435.43 L176.63,435.16 L177.15,434.94 L177.75,434.77 L178.42,434.65 L179.21,434.57 L180.35,434.55 L181.49,434.57 L182.28,434.65 L182.95,434.77 L183.55,434.94 L184.07,435.16 L184.52,435.43 L184.91,435.74 L185.23,436.10 L185.48,436.51 L185.65,436.97 L185.76,437.52Z" fill="none" stroke="#5c5c5c" stroke-width="0.5"/>
<path d="M184.96,438.40 L184.94,439.01 L184.85,439.44 L184.71,439.80 L184.52,440.12 L184.27,440.40 L183.97,440.65 L183.61,440.86 L183.20,441.03 L182.74,441.16 L182.21,441.26 L181.59,441.32 L180.70,441.34 L179.81,441.32 L179.19,441.26 L178.66,441.16 L178.20,441.03 L177.79,440.86 L177.43,440.65 L177.13,440.40 L176.88,440.12 L176.69,439.80 L176.55,439.44 L176.46,439.01 L176.44,438.40 L176.46,437.79 L176.55,437.36 L176.69,437.00 L176.88,436.68 L177.13,436.40 L177.43,436.15 L177.79,435.94 L178.20,435.77 L178.66,435.64 L179.19,435.54 L179.81,435.48 L180.70,435.46 L181.59,435.48 L182.21,435.54 L182.74,435.64 L183.20,435.77 L183.61,435.94 L183.97,436.15 L184.27,436.40 L184.52,436.68 L184.71,437.00 L184.85,437.36 L184.94,437.79Z" fill="none" stroke="#9a9a9a" stroke-width="0.5"/>
<path d="M184.13,438.50 L184.11,438.94 L184.05,439.25 L183.95,439.51 L183.81,439.74 L183.63,439.95 L183.41,440.12 L183.15,440.28 L182.86,440.40 L182.52,440.50 L182.14,440.57 L181.69,440.61 L181.05,440.62 L180.41,440.61 L179.96,440.57 L179.58,440.50 L179.24,440.40 L178.95,440.28 L178.69,440.12 L178.47,439.95 L178.29,439.74 L178.15,439.51 L178.05,439.25 L177.99,438.94 L177.97,438.50 L177.99,438.06 L178.05,437.75 L178.15,437.49 L178.29,437.26 L178.47,437.05 L178.69,436.88 L178.95,436.72 L179.24,436.60 L179.58,436.50 L179.96,436.43 L180.41,436.39 L181.05,436.38 L181.69,436.39 L182.14,436.43 L182.52,436.50 L182.86,436.60 L183.15,436.72 L183.41,436.88 L183.63,437.05 L183.81,437.26 L183.95,437.49 L184.05,437.75 L184.11,438.06Z" fill="none" stroke="#5c5c5c" stroke-width="0.5"/>
<path d="M183.29,438.60 L183.28,438.87 L183.24,439.06 L183.18,439.22 L183.10,439.37 L182.99,439.49 L182.85,439.60 L182.69,439.69 L182.51,439.77 L182.31,439.83 L182.07,439.87 L181.80,439.90 L181.40,439.91 L181.00,439.90 L180.73,439.87 L180.49,439.83 L180.29,439.77 L180.11,439.69 L179.95,439.60 L179.81,439.49 L179.70,439.37 L179.62,439.22 L179.56,439.06 L179.52,438.87 L179.51,438.60 L179.52,438.33 L179.56,438.14 L179.62,437.98 L179.70,437.83 L179.81,437.71 L179.95,437.60 L180.11,437.51 L180.29,437.43 L180.49,437.37 L180.73,437.33 L181.00,437.30 L181.40,437.29 L181.80,437.30 L182.07,437.33 L182.31,437.37 L182.51,437.43 L182.69,437.51 L182.85,437.60 L182.99,437.71 L183.10,437.83 L183.18,437.98 L183.24,438.14 L183.28,438.33Z" fill="none" stroke="#9a9a9a" stroke-width="0.5"/>
<ellipse cx="181.80" cy="438.50" rx="2.88" ry="1.24" fill="#f4f4f4" stroke="none"/>
<rect x="170.30" y="403.50" width="26.40" height="25.90" fill="none" stroke="#505050" stroke-width="0.65"/>
<text x="183.00" y="400.15" font-size="6.0" text-anchor="middle" fill="#cc4848">26.2</text>
<rect x="229.50" y="390.50" width="64.50" height="63.50" fill="none" stroke="#9a9a9a" stroke-width="0.55"/>
<line x1="228.30" y1="393.50" x2="229.50" y2="393.50" stroke="#444" stroke-width="0.45"/>
<line x1="228.30" y1="398.08" x2="229.50" y2="398.08" stroke="#444" stroke-width="0.45"/>
<line x1="228.30" y1="402.65" x2="229.50" y2="402.65" stroke="#444" stroke-width="0.45"/>
<line x1="228.30" y1="407.23" x2="229.50" y2="407.23" stroke="#444" stroke-width="0.45"/>
<line x1="228.30" y1="411.81" x2="229.50" y2="411.81" stroke="#444" stroke-width="0.45"/>
<line x1="228.30" y1="416.38" x2="229.50" y2="416.38" stroke="#444" stroke-width="0.45"/>
<line x1="228.30" y1="420.96" x2="229.50" y2="420.96" stroke="#444" stroke-width="0.45"/>
<line x1="228.30" y1="425.54" x2="229.50" y2="425.54" stroke="#444" stroke-width="0.45"/>
<line x1="228.30" y1="430.12" x2="229.50" y2="430.12" stroke="#444" stroke-width="0.45"/>
<line x1="228.30" y1="434.69" x2="229.50" y2="434.69" stroke="#444" stroke-width="0.45"/>
<line x1="228.30" y1="439.27" x2="229.50" y2="439.27" stroke="#444" stroke-width="0.45"/>
<line x1="228.30" y1="443.85" x2="229.50" y2="443.85" stroke="#444" stroke-width="0.45"/>
<line x1="228.30" y1="448.42" x2="229.50" y2="448.42" stroke="#444" stroke-width="0.45"/>
<line x1="228.30" y1="453.00" x2="229.50" y2="453.00" stroke="#444" stroke-width="0.45"/>
<line x1="231.50" y1="454.00" x2="231.50" y2="455.20" stroke="#444" stroke-width="0.45"/>
<line x1="235.06" y1="454.00" x2="235.06" y2="455.20" stroke="#444" stroke-width="0.45"/>
<line x1="238.62" y1="454.00" x2="238.62" y2="455.20" stroke="#444" stroke-width="0.45"/>
<line x1="242.18" y1="454.00" x2="242.18" y2="455.20" stroke="#444" stroke-width="0.45"/>
<line x1="245.74" y1="454.00" x2="245.74" y2="455.20" stroke="#444" stroke-width="0.45"/>
<line x1="249.29" y1="454.00" x2="249.29" y2="455.20" stroke="#444" stroke-width="0.45"/>
<line x1="252.85" y1="454.00" x2="252.85" y2="455.20" stroke="#444" stroke-width="0.45"/>
<line x1="256.41" y1="454.00" x2="256.41" y2="455.20" stroke="#444" stroke-width="0.45"/>
<line x1="259.97" y1="454.00" x2="259.97" y2="455.20" stroke="#444" stroke-width="0.45"/>
<line x1="263.53" y1="454.00" x2="263.53" y2="455.20" stroke="#444" stroke-width="0.45"/>
<line x1="267.09" y1="454.00" x2="267.09" y2="455.20" stroke="#444" stroke-width="0.45"/>
<line x1="270.65" y1="454.00" x2="270.65" y2="455.20" stroke="#444" stroke-width="0.45"/>
<line x1="274.21" y1="454.00" x2="274.21" y2="455.20" stroke="#444" stroke-width="0.45"/>
<line x1="277.76" y1="454.00" x2="277.76" y2="455.20" stroke="#444" stroke-width="0.45"/>
<line x1="281.32" y1="454.00" x2="281.32" y2="455.20" stroke="#444" stroke-width="0.45"/>
<line x1="284.88" y1="454.00" x2="284.88" y2="455.20" stroke="#444" stroke-width="0.45"/>
<line x1="288.44" y1="454.00" x2="288.44" y2="455.20" stroke="#444" stroke-width="0.45"/>
<line x1="292.00" y1="454.00" x2="292.00" y2="455.20" stroke="#444" stroke-width="0.45"/>
<line x1="227.50" y1="396.85" x2="229.50" y2="396.85" stroke="#333" stroke-width="0.5"/>
<text x="225.90" y="397.65" font-size="3.2" text-anchor="middle" fill="#222" font-weight="bold" transform="rotate(-90 225.90 397.65)">10⁵</text>
<line x1="227.50" y1="411.77" x2="229.50" y2="411.77" stroke="#333" stroke-width="0.5"/>
<text x="225.90" y="412.57" font-size="3.2" text-anchor="middle" fill="#222" font-weight="bold" transform="rotate(-90 225.90 412.57)">10⁴</text>
<line x1="227.50" y1="428.85" x2="229.50" y2="428.85" stroke="#333" stroke-width="0.5"/>
<text x="225.90" y="429.65" font-size="3.2" text-anchor="middle" fill="#222" font-weight="bold" transform="rotate(-90 225.90 429.65)">10³</text>
<line x1="227.50" y1="439.71" x2="229.50" y2="439.71" stroke="#333" stroke-width="0.5"/>
<text x="225.90" y="440.51" font-size="3.2" text-anchor="middle" fill="#222" font-weight="bold" transform="rotate(-90 225.90 440.51)">0</text>
<line x1="227.50" y1="451.33" x2="229.50" y2="451.33" stroke="#333" stroke-width="0.5"/>
<text x="225.90" y="452.13" font-size="3.2" text-anchor="middle" fill="#222" font-weight="bold" transform="rotate(-90 225.90 452.13)">-10³</text>
<line x1="233.50" y1="454.00" x2="233.50" y2="456.00" stroke="#333" stroke-width="0.5"/>
<text x="233.50" y="461.80" font-size="3.2" text-anchor="middle" fill="#222" font-weight="bold">-10³</text>
<line x1="243.50" y1="454.00" x2="243.50" y2="456.00" stroke="#333" stroke-width="0.5"/>
<text x="243.50" y="461.80" font-size="3.2" text-anchor="middle" fill="#222" font-weight="bold">0</text>
<line x1="255.04" y1="454.00" x2="255.04" y2="456.00" stroke="#333" stroke-width="0.5"/>
<text x="255.04" y="461.80" font-size="3.2" text-anchor="middle" fill="#222" font-weight="bold">10³</text>
<line x1="272.78" y1="454.00" x2="272.78" y2="456.00" stroke="#333" stroke-width="0.5"/>
<text x="272.78" y="461.80" font-size="3.2" text-anchor="middle" fill="#222" font-weight="bold">10⁴</text>
<line x1="288.19" y1="454.00" x2="288.19" y2="456.00" stroke="#333" stroke-width="0.5"/>
<text x="288.19" y="461.80" font-size="3.2" text-anchor="middle" fill="#222" font-weight="bold">10⁵</text>
<text x="260.46" y="466.90" font-size="2.75" text-anchor="middle" fill="#222" font-weight="bold">Comp-PerCP-Cy5-5-A</text>
<text x="220.50" y="422.25" font-size="2.75" text-anchor="middle" fill="#333" font-weight="bold" transform="rotate(-90 220.50 422.25)">Comp-APC-A</text>
<rect x="228.10" y="439.47" width="1.60" height="2.40" fill="#111" stroke="none" stroke-width="0"/>
<rect x="243.69" y="453.20" width="3.20" height="1.60" fill="#111" stroke="none" stroke-width="0"/>
<text x="261.75" y="386.70" font-size="6.2" text-anchor="middle" fill="#111" stroke="#111" stroke-width="0.22">C3a+IPI549</text>
<ellipse cx="258.60" cy="422.50" rx="4.50" ry="6.00" fill="#ececec" stroke="#b4b4b4" stroke-width="0.5"/>
<ellipse cx="258.60" cy="422.80" rx="3.42" ry="4.56" fill="none" stroke="#b4b4b4" stroke-width="0.45"/>
<ellipse cx="258.60" cy="423.10" rx="2.34" ry="3.12" fill="none" stroke="#b4b4b4" stroke-width="0.45"/>
<ellipse cx="258.60" cy="423.40" rx="1.26" ry="1.68" fill="none" stroke="#b4b4b4" stroke-width="0.45"/>
<path d="M267.40,438.00 L267.34,439.44 L267.15,440.44 L266.84,441.30 L266.42,442.05 L265.87,442.71 L265.20,443.29 L264.42,443.77 L263.52,444.18 L262.49,444.49 L261.32,444.72 L259.96,444.85 L258.00,444.90 L256.04,444.85 L254.68,444.72 L253.51,444.49 L252.48,444.18 L251.58,443.77 L250.80,443.29 L250.13,442.71 L249.58,442.05 L249.16,441.30 L248.85,440.44 L248.66,439.44 L248.60,438.00 L248.66,436.56 L248.85,435.56 L249.16,434.70 L249.58,433.95 L250.13,433.29 L250.80,432.71 L251.58,432.23 L252.48,431.82 L253.51,431.51 L254.68,431.28 L256.04,431.15 L258.00,431.10 L259.96,431.15 L261.32,431.28 L262.49,431.51 L263.52,431.82 L264.42,432.23 L265.20,432.71 L265.87,433.29 L266.42,433.95 L266.84,434.70 L267.15,435.56 L267.34,436.56Z" fill="#cfcfcf" stroke="#666" stroke-width="0.55"/>
<path d="M266.51,438.10 L266.46,439.35 L266.30,440.22 L266.03,440.96 L265.66,441.62 L265.18,442.19 L264.60,442.69 L263.92,443.11 L263.14,443.46 L262.25,443.74 L261.24,443.93 L260.05,444.05 L258.35,444.09 L256.65,444.05 L255.46,443.93 L254.45,443.74 L253.56,443.46 L252.78,443.11 L252.10,442.69 L251.52,442.19 L251.04,441.62 L250.67,440.96 L250.40,440.22 L250.24,439.35 L250.19,438.10 L250.24,436.85 L250.40,435.98 L250.67,435.24 L251.04,434.58 L251.52,434.01 L252.10,433.51 L252.78,433.09 L253.56,432.74 L254.45,432.46 L255.46,432.27 L256.65,432.15 L258.35,432.11 L260.05,432.15 L261.24,432.27 L262.25,432.46 L263.14,432.74 L263.92,433.09 L264.60,433.51 L265.18,434.01 L265.66,434.58 L266.03,435.24 L266.30,435.98 L266.46,436.85Z" fill="none" stroke="#5c5c5c" stroke-width="0.5"/>
<path d="M265.63,438.20 L265.58,439.26 L265.44,440.00 L265.22,440.63 L264.90,441.18 L264.50,441.67 L264.01,442.09 L263.43,442.45 L262.76,442.75 L262.01,442.98 L261.15,443.15 L260.15,443.25 L258.70,443.28 L257.25,443.25 L256.25,443.15 L255.39,442.98 L254.64,442.75 L253.97,442.45 L253.39,442.09 L252.90,441.67 L252.50,441.18 L252.18,440.63 L251.96,440.00 L251.82,439.26 L251.77,438.20 L251.82,437.14 L251.96,436.40 L252.18,435.77 L252.50,435.22 L252.90,434.73 L253.39,434.31 L253.97,433.95 L254.64,433.65 L255.39,433.42 L256.25,433.25 L257.25,433.15 L258.70,433.12 L260.15,433.15 L261.15,433.25 L262.01,433.42 L262.76,433.65 L263.43,433.95 L264.01,434.31 L264.50,434.73 L264.90,435.22 L265.22,435.77 L265.44,436.40 L265.58,437.14Z" fill="none" stroke="#9a9a9a" stroke-width="0.5"/>
<path d="M264.74,438.30 L264.70,439.17 L264.59,439.78 L264.40,440.29 L264.14,440.75 L263.81,441.15 L263.41,441.50 L262.93,441.80 L262.39,442.04 L261.77,442.23 L261.06,442.37 L260.24,442.45 L259.05,442.48 L257.86,442.45 L257.04,442.37 L256.33,442.23 L255.71,442.04 L255.17,441.80 L254.69,441.50 L254.29,441.15 L253.96,440.75 L253.70,440.29 L253.51,439.78 L253.40,439.17 L253.36,438.30 L253.40,437.43 L253.51,436.82 L253.70,436.31 L253.96,435.85 L254.29,435.45 L254.69,435.10 L255.17,434.80 L255.71,434.56 L256.33,434.37 L257.04,434.23 L257.86,434.15 L259.05,434.12 L260.24,434.15 L261.06,434.23 L261.77,434.37 L262.39,434.56 L262.93,434.80 L263.41,435.10 L263.81,435.45 L264.14,435.85 L264.40,436.31 L264.59,436.82 L264.70,437.43Z" fill="none" stroke="#5c5c5c" stroke-width="0.5"/>
<path d="M263.85,438.40 L263.82,439.08 L263.74,439.56 L263.59,439.96 L263.39,440.32 L263.13,440.63 L262.81,440.90 L262.44,441.14 L262.01,441.33 L261.53,441.48 L260.97,441.58 L260.33,441.65 L259.40,441.67 L258.47,441.65 L257.83,441.58 L257.27,441.48 L256.79,441.33 L256.36,441.14 L255.99,440.90 L255.67,440.63 L255.41,440.32 L255.21,439.96 L255.06,439.56 L254.98,439.08 L254.95,438.40 L254.98,437.72 L255.06,437.24 L255.21,436.84 L255.41,436.48 L255.67,436.17 L255.99,435.90 L256.36,435.66 L256.79,435.47 L257.27,435.32 L257.83,435.22 L258.47,435.15 L259.40,435.13 L260.33,435.15 L260.97,435.22 L261.53,435.32 L262.01,435.47 L262.44,435.66 L262.81,435.90 L263.13,436.17 L263.39,436.48 L263.59,436.84 L263.74,437.24 L263.82,437.72Z" fill="none" stroke="#9a9a9a" stroke-width="0.5"/>
<path d="M262.97,438.50 L262.94,438.99 L262.88,439.33 L262.78,439.63 L262.63,439.88 L262.44,440.11 L262.21,440.31 L261.95,440.48 L261.64,440.61 L261.29,440.72 L260.89,440.80 L260.42,440.84 L259.75,440.86 L259.08,440.84 L258.61,440.80 L258.21,440.72 L257.86,440.61 L257.55,440.48 L257.29,440.31 L257.06,440.11 L256.87,439.88 L256.72,439.63 L256.62,439.33 L256.56,438.99 L256.53,438.50 L256.56,438.01 L256.62,437.67 L256.72,437.37 L256.87,437.12 L257.06,436.89 L257.29,436.69 L257.55,436.52 L257.86,436.39 L258.21,436.28 L258.61,436.20 L259.08,436.16 L259.75,436.14 L260.42,436.16 L260.89,436.20 L261.29,436.28 L261.64,436.39 L261.95,436.52 L262.21,436.69 L262.44,436.89 L262.63,437.12 L262.78,437.37 L262.88,437.67 L262.94,438.01Z" fill="none" stroke="#5c5c5c" stroke-width="0.5"/>
<path d="M262.08,438.60 L262.07,438.90 L262.03,439.11 L261.96,439.29 L261.87,439.45 L261.76,439.59 L261.62,439.71 L261.45,439.82 L261.26,439.90 L261.05,439.97 L260.80,440.01 L260.51,440.04 L260.10,440.05 L259.69,440.04 L259.40,440.01 L259.15,439.97 L258.94,439.90 L258.75,439.82 L258.58,439.71 L258.44,439.59 L258.33,439.45 L258.24,439.29 L258.17,439.11 L258.13,438.90 L258.12,438.60 L258.13,438.30 L258.17,438.09 L258.24,437.91 L258.33,437.75 L258.44,437.61 L258.58,437.49 L258.75,437.38 L258.94,437.30 L259.15,437.23 L259.40,437.19 L259.69,437.16 L260.10,437.15 L260.51,437.16 L260.80,437.19 L261.05,437.23 L261.26,437.30 L261.45,437.38 L261.62,437.49 L261.76,437.61 L261.87,437.75 L261.96,437.91 L262.03,438.09 L262.07,438.30Z" fill="none" stroke="#9a9a9a" stroke-width="0.5"/>
<ellipse cx="260.50" cy="438.50" rx="3.01" ry="1.38" fill="#f4f4f4" stroke="none"/>
<rect x="249.30" y="403.50" width="26.40" height="25.90" fill="none" stroke="#505050" stroke-width="0.65"/>
<text x="262.20" y="400.15" font-size="6.0" text-anchor="middle" fill="#cc4848">18.5</text>
<line x1="58.30" y1="455.70" x2="58.30" y2="397.50" stroke="#666" stroke-width="0.8"/>
<polygon points="58.3,393.7 56.7,398 59.9,398" fill="#111"/>
<text x="53.50" y="425.00" font-size="5.6" text-anchor="middle" fill="#111" stroke="#111" stroke-width="0.2" transform="rotate(-90 53.50 425.00)">p-AKT</text>
<line x1="106.40" y1="471.40" x2="265.50" y2="471.40" stroke="#333" stroke-width="0.8"/>
<polygon points="269,471.4 264.8,469.8 264.8,473" fill="#111"/>
<text x="194.50" y="482.20" font-size="5.9" text-anchor="middle" fill="#111" stroke="#111" stroke-width="0.3">F4/80</text>
<line x1="258.75" y1="546.30" x2="258.75" y2="635.00" stroke="#111" stroke-width="0.9"/>
<line x1="258.75" y1="635.00" x2="372.00" y2="635.00" stroke="#111" stroke-width="0.9"/>
<line x1="256.25" y1="631.75" x2="258.75" y2="631.75" stroke="#111" stroke-width="0.9"/>
<text x="255.50" y="635.45" font-size="10.3" text-anchor="end" fill="#111" stroke="#111" stroke-width="0.3">0</text>
<line x1="256.25" y1="596.15" x2="258.75" y2="596.15" stroke="#111" stroke-width="0.9"/>
<text x="255.50" y="599.85" font-size="10.3" text-anchor="end" fill="#111" stroke="#111" stroke-width="0.3">500</text>
<line x1="256.25" y1="560.55" x2="258.75" y2="560.55" stroke="#111" stroke-width="0.9"/>
<text x="255.50" y="564.25" font-size="10.3" text-anchor="end" fill="#111" stroke="#111" stroke-width="0.3">1,000</text>
<line x1="258.75" y1="635.00" x2="258.75" y2="637.80" stroke="#111" stroke-width="0.9"/>
<text x="258.75" y="646.20" font-size="10.3" text-anchor="middle" fill="#111" stroke="#111" stroke-width="0.3">0</text>
<line x1="287.05" y1="635.00" x2="287.05" y2="637.80" stroke="#111" stroke-width="0.9"/>
<text x="287.05" y="646.20" font-size="10.3" text-anchor="middle" fill="#111" stroke="#111" stroke-width="0.3">5</text>
<line x1="315.35" y1="635.00" x2="315.35" y2="637.80" stroke="#111" stroke-width="0.9"/>
<text x="315.35" y="646.20" font-size="10.3" text-anchor="middle" fill="#111" stroke="#111" stroke-width="0.3">10</text>
<line x1="343.65" y1="635.00" x2="343.65" y2="637.80" stroke="#111" stroke-width="0.9"/>
<text x="343.65" y="646.20" font-size="10.3" text-anchor="middle" fill="#111" stroke="#111" stroke-width="0.3">15</text>
<line x1="371.95" y1="635.00" x2="371.95" y2="637.80" stroke="#111" stroke-width="0.9"/>
<text x="371.95" y="646.20" font-size="10.3" text-anchor="middle" fill="#111" stroke="#111" stroke-width="0.3">20</text>
<text x="315.00" y="658.40" font-size="10.3" text-anchor="middle" fill="#111" stroke="#111" stroke-width="0.3">Days after tumor inoculation</text>
<text x="222.80" y="588.00" font-size="10.3" text-anchor="middle" fill="#111" stroke="#111" stroke-width="0.3" transform="rotate(-90 222.80 588.00)">Tumor volume (mm<tspan font-size="6.5" dy="-3.5">3</tspan><tspan dy="3.5">)</tspan></text>
<polyline points="258.75,631.75 298.37,629.61 315.35,627.48 332.33,623.78 349.31,615.02" fill="none" stroke="#c040c0" stroke-width="0.8"/>
<polygon points="298.37,627.31 300.67,631.45 296.07,631.45" fill="#c040c0"/>
<polygon points="315.35,625.18 317.65,629.32 313.05,629.32" fill="#c040c0"/>
<polygon points="332.33,621.48 334.63,625.62 330.03,625.62" fill="#c040c0"/>
<polygon points="349.31,612.72 351.61,616.86 347.01,616.86" fill="#c040c0"/>
<polyline points="258.75,631.75 298.37,628.55 315.35,628.76 332.33,624.49 349.31,612.03" fill="none" stroke="#e0182a" stroke-width="0.8"/>
<rect x="296.07" y="626.25" width="4.60" height="4.60" fill="#e0182a"/>
<rect x="313.05" y="626.46" width="4.60" height="4.60" fill="#e0182a"/>
<rect x="330.03" y="622.19" width="4.60" height="4.60" fill="#e0182a"/>
<rect x="347.01" y="609.73" width="4.60" height="4.60" fill="#e0182a"/>
<polyline points="258.75,631.75 298.37,628.19 315.35,624.49 332.33,618.22 349.31,602.99" fill="none" stroke="#2020d0" stroke-width="0.8"/>
<line x1="349.31" y1="602.99" x2="349.31" y2="599.99" stroke="#2020d0" stroke-width="0.8"/>
<line x1="347.51" y1="599.99" x2="351.11" y2="599.99" stroke="#2020d0" stroke-width="0.8"/>
<polygon points="298.37,625.89 300.21,628.19 298.37,630.49 296.53,628.19" fill="#2020d0"/>
<polygon points="315.35,622.19 317.19,624.49 315.35,626.79 313.51,624.49" fill="#2020d0"/>
<polygon points="332.33,615.92 334.17,618.22 332.33,620.52 330.49,618.22" fill="#2020d0"/>
<polygon points="349.31,600.69 351.15,602.99 349.31,605.29 347.47,602.99" fill="#2020d0"/>
<polyline points="258.75,631.75 298.37,627.98 315.35,616.23 332.33,599.28 349.31,569.52" fill="none" stroke="#111" stroke-width="0.8"/>
<line x1="332.33" y1="599.28" x2="332.33" y2="593.73" stroke="#111" stroke-width="0.8"/>
<line x1="330.53" y1="593.73" x2="334.13" y2="593.73" stroke="#111" stroke-width="0.8"/>
<line x1="349.31" y1="569.52" x2="349.31" y2="559.48" stroke="#111" stroke-width="0.8"/>
<line x1="347.51" y1="559.48" x2="351.11" y2="559.48" stroke="#111" stroke-width="0.8"/>
<circle cx="258.75" cy="631.75" r="2.30" fill="#111"/>
<circle cx="298.37" cy="627.98" r="2.30" fill="#111"/>
<circle cx="315.35" cy="616.23" r="2.30" fill="#111"/>
<circle cx="332.33" cy="599.28" r="2.30" fill="#111"/>
<circle cx="349.31" cy="569.52" r="2.30" fill="#111"/>
<line x1="383.20" y1="583.70" x2="397.50" y2="583.70" stroke="#111" stroke-width="0.8"/>
<circle cx="390.20" cy="583.70" r="2.10" fill="#111"/>
<text x="401.00" y="587.30" font-size="10.2" text-anchor="start" fill="#111" stroke="#111" stroke-width="0.3">CT26-Sg-Con + vehicle</text>
<line x1="383.20" y1="599.80" x2="397.50" y2="599.80" stroke="#2020d0" stroke-width="0.8"/>
<polygon points="390.20,597.70 391.88,599.80 390.20,601.90 388.52,599.80" fill="#2020d0"/>
<text x="401.00" y="603.40" font-size="10.2" text-anchor="start" fill="#111" stroke="#111" stroke-width="0.3">CT26-Sg-Con + IPI549</text>
<line x1="383.20" y1="614.70" x2="397.50" y2="614.70" stroke="#e0182a" stroke-width="0.8"/>
<rect x="388.10" y="612.60" width="4.20" height="4.20" fill="#e0182a"/>
<text x="401.00" y="618.30" font-size="10.2" text-anchor="start" fill="#111" stroke="#111" stroke-width="0.3">CT26-Sg-C3 + vehicle</text>
<line x1="383.20" y1="627.30" x2="397.50" y2="627.30" stroke="#c040c0" stroke-width="0.8"/>
<polygon points="390.20,625.20 392.30,628.98 388.10,628.98" fill="#c040c0"/>
<text x="401.00" y="630.90" font-size="10.2" text-anchor="start" fill="#111" stroke="#111" stroke-width="0.3">CT26-Sg-C3 + IPI549</text>
<line x1="512.70" y1="582.90" x2="512.70" y2="600.90" stroke="#111" stroke-width="0.8"/>
<text x="511.40" y="591.30" font-size="10" text-anchor="middle" fill="#111" font-weight="bold" transform="rotate(90 511.40 591.30)">***</text>
<line x1="506.00" y1="612.50" x2="506.00" y2="630.50" stroke="#111" stroke-width="0.8"/>
<text x="509.20" y="622.00" font-size="10.4" text-anchor="middle" fill="#111" stroke="#111" stroke-width="0.3" transform="rotate(90 509.20 622.00)">n.s</text>
</svg></body></html>
